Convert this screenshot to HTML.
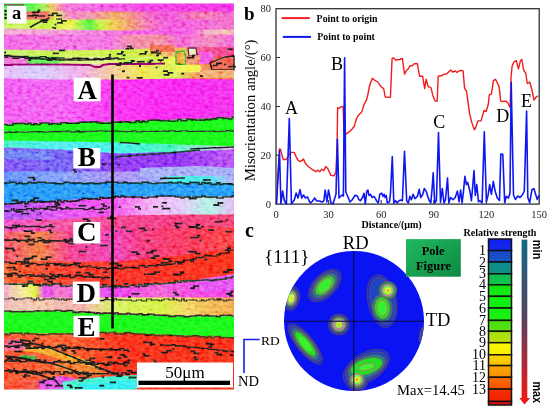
<!DOCTYPE html>
<html><head><meta charset="utf-8"><style>
html,body{margin:0;padding:0;background:#fff;width:550px;height:409px;overflow:hidden}
svg{position:absolute;left:0;top:0;display:block}
.tn{font-family:"Liberation Serif","Times New Roman",serif}
.tb{font-family:"Liberation Serif","Times New Roman",serif;font-weight:bold}
.sb{font-family:"Liberation Sans",Arial,sans-serif;font-weight:bold}
</style></head><body>
<svg width="550" height="409" viewBox="0 0 550 409">
<defs>
<linearGradient id="g0" x1="0" y1="0" x2="1" y2="0"><stop offset="0.0000" stop-color="#40f040"/><stop offset="0.1000" stop-color="#30f030"/><stop offset="0.1652" stop-color="#80f040"/><stop offset="0.2087" stop-color="#f0c050"/><stop offset="0.2652" stop-color="#f060d0"/><stop offset="0.4174" stop-color="#f050e0"/><stop offset="0.5913" stop-color="#f030e0"/><stop offset="1.0000" stop-color="#f020e0"/></linearGradient>
<linearGradient id="g1" x1="0" y1="0" x2="1" y2="0"><stop offset="0.0000" stop-color="#60f040"/><stop offset="0.1000" stop-color="#f05050"/><stop offset="0.1826" stop-color="#f06050"/><stop offset="0.2217" stop-color="#e0f040"/><stop offset="0.2870" stop-color="#f070c0"/><stop offset="0.3739" stop-color="#f080a0"/><stop offset="0.4826" stop-color="#f0a050"/><stop offset="0.5478" stop-color="#f08070"/><stop offset="0.6348" stop-color="#f050c0"/><stop offset="0.7217" stop-color="#f040d8"/><stop offset="0.8522" stop-color="#f06ca0"/><stop offset="1.0000" stop-color="#f050c8"/></linearGradient>
<linearGradient id="g2" x1="0" y1="0" x2="1" y2="0"><stop offset="0.0000" stop-color="#c0f050"/><stop offset="0.2000" stop-color="#c0f030"/><stop offset="0.2870" stop-color="#f0f040"/><stop offset="0.3739" stop-color="#40f030"/><stop offset="0.4174" stop-color="#c0f030"/><stop offset="0.4826" stop-color="#f0c040"/><stop offset="0.5478" stop-color="#f09060"/><stop offset="0.6348" stop-color="#f060b0"/><stop offset="0.7217" stop-color="#f040d8"/><stop offset="0.8522" stop-color="#f050d0"/><stop offset="1.0000" stop-color="#f060c0"/></linearGradient>
<linearGradient id="g3" x1="0" y1="0" x2="1" y2="0"><stop offset="0.0000" stop-color="#f0a0c8"/><stop offset="0.2435" stop-color="#f090d0"/><stop offset="0.4174" stop-color="#f070d8"/><stop offset="0.5478" stop-color="#f050e0"/><stop offset="0.8087" stop-color="#f040e0"/><stop offset="0.8739" stop-color="#f0a0c0"/><stop offset="0.9826" stop-color="#f0c0a0"/><stop offset="1.0000" stop-color="#f090c0"/></linearGradient>
<linearGradient id="g4" x1="0" y1="0" x2="1" y2="0"><stop offset="0.0000" stop-color="#f050e0"/><stop offset="0.2435" stop-color="#f060e0"/><stop offset="0.4609" stop-color="#f060e0"/><stop offset="0.5478" stop-color="#f07aa0"/><stop offset="0.6783" stop-color="#f08090"/><stop offset="0.7652" stop-color="#f050d0"/><stop offset="0.8957" stop-color="#f07ab0"/><stop offset="1.0000" stop-color="#f050d8"/></linearGradient>
<linearGradient id="g5" x1="0" y1="0" x2="1" y2="0"><stop offset="0.0000" stop-color="#c0f060"/><stop offset="0.2000" stop-color="#c0f040"/><stop offset="0.4174" stop-color="#c8f040"/><stop offset="0.5043" stop-color="#c0f030"/><stop offset="0.6348" stop-color="#d0e030"/><stop offset="0.7217" stop-color="#f0a050"/><stop offset="0.7870" stop-color="#f0b040"/><stop offset="0.8522" stop-color="#f04080"/><stop offset="1.0000" stop-color="#f03080"/></linearGradient>
<linearGradient id="g6" x1="0" y1="0" x2="1" y2="0"><stop offset="0.0000" stop-color="#f060d8"/><stop offset="0.0957" stop-color="#f070d0"/><stop offset="0.1130" stop-color="#40f040"/><stop offset="0.2217" stop-color="#50f040"/><stop offset="0.2652" stop-color="#d0f070"/><stop offset="0.4174" stop-color="#e0f080"/><stop offset="0.5043" stop-color="#c0f040"/><stop offset="0.6348" stop-color="#c8f040"/><stop offset="0.7435" stop-color="#f0f040"/><stop offset="0.8522" stop-color="#f040e0"/><stop offset="0.9043" stop-color="#f05040"/><stop offset="1.0000" stop-color="#f05040"/></linearGradient>
<linearGradient id="g7" x1="0" y1="0" x2="1" y2="0"><stop offset="0.0000" stop-color="#e0b0f8"/><stop offset="0.1565" stop-color="#d0c8f8"/><stop offset="0.3304" stop-color="#f0a0e8"/><stop offset="0.4609" stop-color="#f0c090"/><stop offset="0.5913" stop-color="#f0e040"/><stop offset="0.7435" stop-color="#d0f040"/><stop offset="0.8522" stop-color="#f08040"/><stop offset="1.0000" stop-color="#f06030"/></linearGradient>
<linearGradient id="g8" x1="0" y1="0" x2="1" y2="0"><stop offset="0.0000" stop-color="#f048f0"/><stop offset="0.2435" stop-color="#f050f0"/><stop offset="0.5043" stop-color="#f820f0"/><stop offset="0.7652" stop-color="#f818f0"/><stop offset="1.0000" stop-color="#f020e8"/></linearGradient>
<linearGradient id="g9" x1="0" y1="0" x2="1" y2="0"><stop offset="0.0000" stop-color="#10f810"/><stop offset="1.0000" stop-color="#10f810"/></linearGradient>
<linearGradient id="g10" x1="0" y1="0" x2="1" y2="0"><stop offset="0.0000" stop-color="#30f0c0"/><stop offset="0.2435" stop-color="#40e8f0"/><stop offset="0.5043" stop-color="#30f0e0"/><stop offset="0.7217" stop-color="#30f0b0"/><stop offset="0.8522" stop-color="#80e0d0"/><stop offset="1.0000" stop-color="#e0b0f0"/></linearGradient>
<linearGradient id="g11" x1="0" y1="0" x2="1" y2="0"><stop offset="0.0000" stop-color="#7040f0"/><stop offset="0.2435" stop-color="#6050f0"/><stop offset="0.5043" stop-color="#8028f0"/><stop offset="0.7652" stop-color="#8020f0"/><stop offset="1.0000" stop-color="#b040f0"/></linearGradient>
<linearGradient id="g12" x1="0" y1="0" x2="1" y2="0"><stop offset="0.0000" stop-color="#5080f8"/><stop offset="0.2435" stop-color="#7090f8"/><stop offset="0.5043" stop-color="#a080f0"/><stop offset="0.6783" stop-color="#90a0f8"/><stop offset="0.7435" stop-color="#30f0e0"/><stop offset="0.8957" stop-color="#40e0e8"/><stop offset="1.0000" stop-color="#b0a0f8"/></linearGradient>
<linearGradient id="g13" x1="0" y1="0" x2="1" y2="0"><stop offset="0.0000" stop-color="#1888f4"/><stop offset="1.0000" stop-color="#1890f4"/></linearGradient>
<linearGradient id="g14" x1="0" y1="0" x2="1" y2="0"><stop offset="0.0000" stop-color="#a040f0"/><stop offset="0.2435" stop-color="#e040f0"/><stop offset="0.4826" stop-color="#f040e8"/><stop offset="0.6348" stop-color="#f0a0f0"/><stop offset="0.7652" stop-color="#e0c0f8"/><stop offset="0.8957" stop-color="#a0f0e0"/><stop offset="1.0000" stop-color="#e0b0f0"/></linearGradient>
<linearGradient id="g15" x1="0" y1="0" x2="1" y2="0"><stop offset="0.0000" stop-color="#f040c0"/><stop offset="0.2435" stop-color="#f04090"/><stop offset="0.4826" stop-color="#f03080"/><stop offset="0.6783" stop-color="#f02870"/><stop offset="1.0000" stop-color="#f03060"/></linearGradient>
<linearGradient id="g16" x1="0" y1="0" x2="1" y2="0"><stop offset="0.0000" stop-color="#f04060"/><stop offset="0.1565" stop-color="#f07030"/><stop offset="0.2870" stop-color="#f03080"/><stop offset="0.4826" stop-color="#f030b0"/><stop offset="0.5913" stop-color="#f02870"/><stop offset="0.8522" stop-color="#f82840"/><stop offset="1.0000" stop-color="#f83030"/></linearGradient>
<linearGradient id="g17" x1="0" y1="0" x2="1" y2="0"><stop offset="0.0000" stop-color="#f85020"/><stop offset="0.2435" stop-color="#f83020"/><stop offset="0.5043" stop-color="#f82018"/><stop offset="1.0000" stop-color="#f82010"/></linearGradient>
<linearGradient id="g18" x1="0" y1="0" x2="1" y2="0"><stop offset="0.0000" stop-color="#f0a0c0"/><stop offset="0.0913" stop-color="#f0f080"/><stop offset="0.1348" stop-color="#e0f030"/><stop offset="0.1783" stop-color="#e030f0"/><stop offset="0.2435" stop-color="#f060c0"/><stop offset="0.4609" stop-color="#e030f0"/><stop offset="0.5478" stop-color="#f030e0"/><stop offset="0.6783" stop-color="#f050d0"/><stop offset="0.8522" stop-color="#f030e0"/><stop offset="1.0000" stop-color="#f030e0"/></linearGradient>
<linearGradient id="g19" x1="0" y1="0" x2="1" y2="0"><stop offset="0.0000" stop-color="#f0b0b0"/><stop offset="0.1565" stop-color="#f0c0a0"/><stop offset="0.3304" stop-color="#f0a0a0"/><stop offset="0.4826" stop-color="#d0f050"/><stop offset="0.6783" stop-color="#d0f030"/><stop offset="0.7870" stop-color="#f0d050"/><stop offset="0.8957" stop-color="#f0b040"/><stop offset="1.0000" stop-color="#f0a040"/></linearGradient>
<linearGradient id="g20" x1="0" y1="0" x2="1" y2="0"><stop offset="0.0000" stop-color="#10f810"/><stop offset="1.0000" stop-color="#10f810"/></linearGradient>
<linearGradient id="g21" x1="0" y1="0" x2="1" y2="0"><stop offset="0.0000" stop-color="#f84020"/><stop offset="0.2435" stop-color="#f85020"/><stop offset="0.5043" stop-color="#f82010"/><stop offset="1.0000" stop-color="#f82010"/></linearGradient>
<linearGradient id="g22" x1="0" y1="0" x2="1" y2="0"><stop offset="0.0000" stop-color="#f84020"/><stop offset="0.1348" stop-color="#f04030"/><stop offset="0.1783" stop-color="#e030e0"/><stop offset="0.2435" stop-color="#20f0c0"/><stop offset="0.4174" stop-color="#20f0f0"/><stop offset="0.5478" stop-color="#40f0a0"/><stop offset="0.5913" stop-color="#f82010"/><stop offset="1.0000" stop-color="#f82010"/></linearGradient>
<linearGradient id="s0" x1="0" y1="0" x2="0" y2="1"><stop offset="0" stop-color="#1020f0"/><stop offset="1" stop-color="#1428e8"/></linearGradient>
<linearGradient id="s1" x1="0" y1="0" x2="0" y2="1"><stop offset="0" stop-color="#1848d0"/><stop offset="1" stop-color="#1a58c0"/></linearGradient>
<linearGradient id="s2" x1="0" y1="0" x2="0" y2="1"><stop offset="0" stop-color="#108a90"/><stop offset="1" stop-color="#109080"/></linearGradient>
<linearGradient id="s3" x1="0" y1="0" x2="0" y2="1"><stop offset="0" stop-color="#10b858"/><stop offset="1" stop-color="#10c848"/></linearGradient>
<linearGradient id="s4" x1="0" y1="0" x2="0" y2="1"><stop offset="0" stop-color="#10e010"/><stop offset="1" stop-color="#10f010"/></linearGradient>
<linearGradient id="s5" x1="0" y1="0" x2="0" y2="1"><stop offset="0" stop-color="#10f010"/><stop offset="1" stop-color="#10f010"/></linearGradient>
<linearGradient id="s6" x1="0" y1="0" x2="0" y2="1"><stop offset="0" stop-color="#10f010"/><stop offset="1" stop-color="#20f010"/></linearGradient>
<linearGradient id="s7" x1="0" y1="0" x2="0" y2="1"><stop offset="0" stop-color="#40e010"/><stop offset="1" stop-color="#60e010"/></linearGradient>
<linearGradient id="s8" x1="0" y1="0" x2="0" y2="1"><stop offset="0" stop-color="#a0e010"/><stop offset="1" stop-color="#c0e010"/></linearGradient>
<linearGradient id="s9" x1="0" y1="0" x2="0" y2="1"><stop offset="0" stop-color="#f8f800"/><stop offset="1" stop-color="#f8f000"/></linearGradient>
<linearGradient id="s10" x1="0" y1="0" x2="0" y2="1"><stop offset="0" stop-color="#f8d800"/><stop offset="1" stop-color="#f8c000"/></linearGradient>
<linearGradient id="s11" x1="0" y1="0" x2="0" y2="1"><stop offset="0" stop-color="#f8a800"/><stop offset="1" stop-color="#f89000"/></linearGradient>
<linearGradient id="s12" x1="0" y1="0" x2="0" y2="1"><stop offset="0" stop-color="#f87000"/><stop offset="1" stop-color="#f85000"/></linearGradient>
<linearGradient id="s13" x1="0" y1="0" x2="0" y2="1"><stop offset="0" stop-color="#f83000"/><stop offset="1" stop-color="#f02000"/></linearGradient>
<linearGradient id="s14" x1="0" y1="0" x2="0" y2="1"><stop offset="0" stop-color="#e01010"/><stop offset="1" stop-color="#e01010"/></linearGradient>
<linearGradient id="pole" x1="0" y1="0" x2="1" y2="1"><stop offset="0" stop-color="#22b860"/><stop offset="1" stop-color="#0c8a42"/></linearGradient>
<linearGradient id="arr" x1="0" y1="0" x2="0" y2="1"><stop offset="0" stop-color="#0f6a85"/><stop offset="0.5" stop-color="#5a4060"/><stop offset="1" stop-color="#f01818"/></linearGradient>
<filter id="noise" x="0" y="0" width="100%" height="100%"><feTurbulence type="fractalNoise" baseFrequency="0.22 0.35" numOctaves="2" seed="3"/><feColorMatrix type="matrix" values="1.6 0 0 0 -0.3  1.6 0 0 0 -0.3  1.6 0 0 0 -0.3  0 0 0 0 1"/></filter>
<clipPath id="circ"><circle cx="354" cy="321" r="70"/></clipPath>
<filter id="bl" x="-20%" y="-20%" width="140%" height="140%"><feGaussianBlur stdDeviation="0.45"/></filter>
</defs>
<!-- EBSD map -->
<g>
<polygon points="4.0,3.5 13.6,3.5 23.2,3.5 32.8,3.5 42.3,3.5 51.9,3.5 61.5,3.5 71.1,3.5 80.7,3.5 90.2,3.5 99.8,3.5 109.4,3.5 119.0,3.5 128.6,3.5 138.2,3.5 147.8,3.5 157.3,3.5 166.9,3.5 176.5,3.5 186.1,3.5 195.7,3.5 205.2,3.5 214.8,3.5 224.4,3.5 234.0,3.5 234.0,12.5 224.4,12.5 214.8,12.5 205.2,12.5 195.7,12.5 186.1,12.5 176.5,12.5 166.9,12.5 157.3,12.5 147.8,12.5 138.2,12.5 128.6,12.5 119.0,12.5 109.4,12.5 99.8,12.5 90.2,12.5 80.7,12.5 71.1,12.5 61.5,12.5 51.9,12.5 42.3,12.5 32.8,12.5 23.2,12.5 13.6,12.5 4.0,12.5" fill="url(#g0)"/>
<polygon points="4.0,11.5 13.6,11.5 23.2,11.5 32.8,11.5 42.3,11.5 51.9,11.5 61.5,11.5 71.1,11.5 80.7,11.5 90.2,11.5 99.8,11.5 109.4,11.5 119.0,11.5 128.6,11.5 138.2,11.5 147.8,11.5 157.3,11.5 166.9,11.5 176.5,11.5 186.1,11.5 195.7,11.5 205.2,11.5 214.8,11.5 224.4,11.5 234.0,11.5 234.0,20.5 224.4,20.5 214.8,20.5 205.2,20.5 195.7,20.5 186.1,20.5 176.5,20.5 166.9,20.5 157.3,20.5 147.8,20.5 138.2,20.5 128.6,20.5 119.0,20.5 109.4,20.5 99.8,20.5 90.2,20.5 80.7,20.5 71.1,20.5 61.5,20.5 51.9,20.5 42.3,20.5 32.8,20.5 23.2,20.5 13.6,20.5 4.0,20.5" fill="url(#g1)"/>
<polygon points="4.0,19.5 13.6,19.5 23.2,19.5 32.8,19.5 42.3,19.5 51.9,19.5 61.5,19.5 71.1,19.5 80.7,19.5 90.2,19.5 99.8,19.5 109.4,19.5 119.0,19.5 128.6,19.5 138.2,19.5 147.8,19.5 157.3,19.5 166.9,19.5 176.5,19.5 186.1,19.5 195.7,19.5 205.2,19.5 214.8,19.5 224.4,19.5 234.0,19.5 234.0,30.5 224.4,30.5 214.8,30.5 205.2,30.5 195.7,30.5 186.1,30.5 176.5,30.6 166.9,30.7 157.3,30.9 147.8,31.0 138.2,31.2 128.6,31.4 119.0,31.5 109.4,31.3 99.8,31.2 90.2,31.0 80.7,30.8 71.1,30.7 61.5,30.5 51.9,30.4 42.3,30.2 32.8,30.0 23.2,29.8 13.6,29.7 4.0,29.5" fill="url(#g2)"/>
<polygon points="4.0,28.5 13.6,28.7 23.2,28.8 32.8,29.0 42.3,29.2 51.9,29.4 61.5,29.5 71.1,29.7 80.7,29.8 90.2,30.0 99.8,30.2 109.4,30.3 119.0,30.5 128.6,30.4 138.2,30.2 147.8,30.0 157.3,29.9 166.9,29.7 176.5,29.6 186.1,29.5 195.7,29.5 205.2,29.5 214.8,29.5 224.4,29.5 234.0,29.5 234.0,35.5 224.4,35.5 214.8,35.5 205.2,35.5 195.7,35.5 186.1,35.5 176.5,35.5 166.9,35.5 157.3,35.5 147.8,35.5 138.2,35.5 128.6,35.5 119.0,35.5 109.4,35.5 99.8,35.5 90.2,35.5 80.7,35.5 71.1,35.5 61.5,35.5 51.9,35.5 42.3,35.5 32.8,35.5 23.2,35.5 13.6,35.5 4.0,35.5" fill="url(#g3)"/>
<polygon points="4.0,34.5 13.6,34.5 23.2,34.5 32.8,34.5 42.3,34.5 51.9,34.5 61.5,34.5 71.1,34.5 80.7,34.5 90.2,34.5 99.8,34.5 109.4,34.5 119.0,34.5 128.6,34.5 138.2,34.5 147.8,34.5 157.3,34.5 166.9,34.5 176.5,34.5 186.1,34.5 195.7,34.5 205.2,34.5 214.8,34.5 224.4,34.5 234.0,34.5 234.0,47.5 224.4,47.7 214.8,47.9 205.2,48.0 195.7,48.2 186.1,48.4 176.5,48.6 166.9,48.9 157.3,49.3 147.8,49.6 138.2,49.9 128.6,50.2 119.0,50.5 109.4,50.7 99.8,50.8 90.2,51.0 80.7,51.2 71.1,51.3 61.5,51.5 51.9,51.4 42.3,51.2 32.8,51.0 23.2,50.8 13.6,50.7 4.0,50.5" fill="url(#g4)"/>
<polygon points="4.0,49.5 13.6,49.7 23.2,49.8 32.8,50.0 42.3,50.2 51.9,50.4 61.5,50.5 71.1,50.3 80.7,50.2 90.2,50.0 99.8,49.8 109.4,49.7 119.0,49.5 128.6,49.2 138.2,48.9 147.8,48.6 157.3,48.3 166.9,47.9 176.5,47.6 186.1,47.4 195.7,47.2 205.2,47.0 214.8,46.9 224.4,46.7 234.0,46.5 234.0,57.5 224.4,57.5 214.8,57.5 205.2,57.5 195.7,57.5 186.1,57.5 176.5,57.5 166.9,57.5 157.3,57.5 147.8,57.5 138.2,57.5 128.6,57.5 119.0,57.5 109.4,57.5 99.8,57.5 90.2,57.5 80.7,57.5 71.1,57.5 61.5,57.5 51.9,57.5 42.3,57.5 32.8,57.5 23.2,57.5 13.6,57.5 4.0,57.5" fill="url(#g5)"/>
<polygon points="4.0,56.5 13.6,56.5 23.2,56.5 32.8,56.5 42.3,56.5 51.9,56.5 61.5,56.5 71.1,56.5 80.7,56.5 90.2,56.5 99.8,56.5 109.4,56.5 119.0,56.5 128.6,56.5 138.2,56.5 147.8,56.5 157.3,56.5 166.9,56.5 176.5,56.5 186.1,56.5 195.7,56.5 205.2,56.5 214.8,56.5 224.4,56.5 234.0,56.5 234.0,64.5 224.4,64.5 214.8,64.5 205.2,64.5 195.7,64.5 186.1,64.5 176.5,64.6 166.9,64.7 157.3,64.9 147.8,65.0 138.2,65.2 128.6,65.4 119.0,65.5 109.4,65.4 99.8,65.3 90.2,65.3 80.7,65.2 71.1,65.1 61.5,65.0 51.9,65.0 42.3,65.0 32.8,65.0 23.2,65.0 13.6,65.0 4.0,65.0" fill="url(#g6)"/>
<polygon points="4.0,64.0 13.6,64.0 23.2,64.0 32.8,64.0 42.3,64.0 51.9,64.0 61.5,64.0 71.1,64.1 80.7,64.2 90.2,64.3 99.8,64.3 109.4,64.4 119.0,64.5 128.6,64.4 138.2,64.2 147.8,64.0 157.3,63.9 166.9,63.7 176.5,63.6 186.1,63.5 195.7,63.5 205.2,63.5 214.8,63.5 224.4,63.5 234.0,63.5 234.0,80.5 224.4,80.3 214.8,80.1 205.2,80.0 195.7,79.8 186.1,79.6 176.5,79.6 166.9,79.7 157.3,79.9 147.8,80.0 138.2,80.2 128.6,80.4 119.0,80.5 109.4,80.5 99.8,80.5 90.2,80.5 80.7,80.5 71.1,80.5 61.5,80.5 51.9,80.4 42.3,80.2 32.8,80.0 23.2,79.8 13.6,79.7 4.0,79.5" fill="url(#g7)"/>
<polygon points="4.0,78.5 13.6,78.7 23.2,78.8 32.8,79.0 42.3,79.2 51.9,79.4 61.5,79.5 71.1,79.5 80.7,79.5 90.2,79.5 99.8,79.5 109.4,79.5 119.0,79.5 128.6,79.4 138.2,79.2 147.8,79.0 157.3,78.9 166.9,78.7 176.5,78.6 186.1,78.6 195.7,78.8 205.2,79.0 214.8,79.1 224.4,79.3 234.0,79.5 234.0,118.5 224.4,118.9 214.8,119.2 205.2,119.6 195.7,119.9 186.1,120.3 176.5,120.6 166.9,120.9 157.3,121.3 147.8,121.6 138.2,121.9 128.6,122.2 119.0,122.5 109.4,122.8 99.8,123.0 90.2,123.2 80.7,123.5 71.1,123.7 61.5,124.0 51.9,124.1 42.3,124.3 32.8,124.5 23.2,124.7 13.6,124.8 4.0,125.0" fill="url(#g8)"/>
<polygon points="4.0,124.0 13.6,123.8 23.2,123.7 32.8,123.5 42.3,123.3 51.9,123.1 61.5,123.0 71.1,122.7 80.7,122.5 90.2,122.2 99.8,122.0 109.4,121.8 119.0,121.5 128.6,121.2 138.2,120.9 147.8,120.6 157.3,120.3 166.9,119.9 176.5,119.6 186.1,119.3 195.7,118.9 205.2,118.6 214.8,118.2 224.4,117.9 234.0,117.5 234.0,147.5 224.4,147.1 214.8,146.8 205.2,146.4 195.7,146.1 186.1,145.7 176.5,145.4 166.9,145.1 157.3,144.7 147.8,144.4 138.2,144.1 128.6,143.8 119.0,143.5 109.4,143.3 99.8,143.2 90.2,143.0 80.7,142.8 71.1,142.7 61.5,142.5 51.9,142.4 42.3,142.2 32.8,142.0 23.2,141.8 13.6,141.7 4.0,141.5" fill="url(#g9)"/>
<polygon points="4.0,140.5 13.6,140.7 23.2,140.8 32.8,141.0 42.3,141.2 51.9,141.4 61.5,141.5 71.1,141.7 80.7,141.8 90.2,142.0 99.8,142.2 109.4,142.3 119.0,142.5 128.6,142.8 138.2,143.1 147.8,143.4 157.3,143.7 166.9,144.1 176.5,144.4 186.1,144.7 195.7,145.1 205.2,145.4 214.8,145.8 224.4,146.1 234.0,146.5 234.0,150.5 224.4,150.9 214.8,151.2 205.2,151.6 195.7,151.9 186.1,152.3 176.5,152.6 166.9,152.9 157.3,153.3 147.8,153.6 138.2,153.9 128.6,154.2 119.0,154.4 109.4,153.8 99.8,153.2 90.2,152.5 80.7,151.9 71.1,151.2 61.5,150.6 51.9,150.2 42.3,149.9 32.8,149.5 23.2,149.2 13.6,148.8 4.0,148.5" fill="url(#g10)"/>
<polygon points="4.0,147.5 13.6,147.8 23.2,148.2 32.8,148.5 42.3,148.9 51.9,149.2 61.5,149.6 71.1,150.2 80.7,150.9 90.2,151.5 99.8,152.2 109.4,152.8 119.0,153.4 128.6,153.2 138.2,152.9 147.8,152.6 157.3,152.3 166.9,151.9 176.5,151.6 186.1,151.3 195.7,150.9 205.2,150.6 214.8,150.2 224.4,149.9 234.0,149.5 234.0,172.5 224.4,172.5 214.8,172.5 205.2,172.5 195.7,172.5 186.1,172.5 176.5,172.5 166.9,172.5 157.3,172.5 147.8,172.5 138.2,172.5 128.6,172.5 119.0,172.5 109.4,172.5 99.8,172.5 90.2,172.5 80.7,172.5 71.1,172.5 61.5,172.5 51.9,172.5 42.3,172.5 32.8,172.5 23.2,172.5 13.6,172.5 4.0,172.5" fill="url(#g11)"/>
<polygon points="4.0,171.5 13.6,171.5 23.2,171.5 32.8,171.5 42.3,171.5 51.9,171.5 61.5,171.5 71.1,171.5 80.7,171.5 90.2,171.5 99.8,171.5 109.4,171.5 119.0,171.5 128.6,171.5 138.2,171.5 147.8,171.5 157.3,171.5 166.9,171.5 176.5,171.5 186.1,171.5 195.7,171.5 205.2,171.5 214.8,171.5 224.4,171.5 234.0,171.5 234.0,184.5 224.4,184.3 214.8,184.1 205.2,184.0 195.7,183.8 186.1,183.6 176.5,183.5 166.9,183.5 157.3,183.5 147.8,183.5 138.2,183.5 128.6,183.5 119.0,183.5 109.4,183.5 99.8,183.5 90.2,183.5 80.7,183.5 71.1,183.5 61.5,183.5 51.9,183.5 42.3,183.5 32.8,183.5 23.2,183.5 13.6,183.5 4.0,183.5" fill="url(#g12)"/>
<polygon points="4.0,182.5 13.6,182.5 23.2,182.5 32.8,182.5 42.3,182.5 51.9,182.5 61.5,182.5 71.1,182.5 80.7,182.5 90.2,182.5 99.8,182.5 109.4,182.5 119.0,182.5 128.6,182.5 138.2,182.5 147.8,182.5 157.3,182.5 166.9,182.5 176.5,182.5 186.1,182.6 195.7,182.8 205.2,183.0 214.8,183.1 224.4,183.3 234.0,183.5 234.0,197.5 224.4,197.5 214.8,197.5 205.2,197.5 195.7,197.5 186.1,197.5 176.5,197.5 166.9,197.5 157.3,197.5 147.8,197.5 138.2,197.5 128.6,197.5 119.0,197.6 109.4,198.2 99.8,198.8 90.2,199.5 80.7,200.1 71.1,200.8 61.5,201.4 51.9,201.9 42.3,202.4 32.8,203.0 23.2,203.5 13.6,204.0 4.0,204.5" fill="url(#g13)"/>
<polygon points="4.0,203.5 13.6,203.0 23.2,202.5 32.8,202.0 42.3,201.4 51.9,200.9 61.5,200.4 71.1,199.8 80.7,199.1 90.2,198.5 99.8,197.8 109.4,197.2 119.0,196.6 128.6,196.5 138.2,196.5 147.8,196.5 157.3,196.5 166.9,196.5 176.5,196.5 186.1,196.5 195.7,196.5 205.2,196.5 214.8,196.5 224.4,196.5 234.0,196.5 234.0,215.5 224.4,215.5 214.8,215.5 205.2,215.5 195.7,215.5 186.1,215.5 176.5,215.6 166.9,215.7 157.3,215.9 147.8,216.0 138.2,216.2 128.6,216.4 119.0,216.6 109.4,217.2 99.8,217.8 90.2,218.5 80.7,219.1 71.1,219.8 61.5,220.4 51.9,220.5 42.3,220.5 32.8,220.5 23.2,220.5 13.6,220.5 4.0,220.5" fill="url(#g14)"/>
<polygon points="4.0,219.5 13.6,219.5 23.2,219.5 32.8,219.5 42.3,219.5 51.9,219.5 61.5,219.4 71.1,218.8 80.7,218.1 90.2,217.5 99.8,216.8 109.4,216.2 119.0,215.6 128.6,215.4 138.2,215.2 147.8,215.0 157.3,214.9 166.9,214.7 176.5,214.6 186.1,214.5 195.7,214.5 205.2,214.5 214.8,214.5 224.4,214.5 234.0,214.5 234.0,228.5 224.4,228.5 214.8,228.5 205.2,228.5 195.7,228.5 186.1,228.5 176.5,228.6 166.9,228.9 157.3,229.3 147.8,229.6 138.2,229.9 128.6,230.2 119.0,230.5 109.4,230.9 99.8,231.2 90.2,231.5 80.7,231.8 71.1,232.1 61.5,232.4 51.9,232.5 42.3,232.5 32.8,232.5 23.2,232.5 13.6,232.5 4.0,232.5" fill="url(#g15)"/>
<polygon points="4.0,231.5 13.6,231.5 23.2,231.5 32.8,231.5 42.3,231.5 51.9,231.5 61.5,231.4 71.1,231.1 80.7,230.8 90.2,230.5 99.8,230.2 109.4,229.9 119.0,229.5 128.6,229.2 138.2,228.9 147.8,228.6 157.3,228.3 166.9,227.9 176.5,227.6 186.1,227.5 195.7,227.5 205.2,227.5 214.8,227.5 224.4,227.5 234.0,227.5 234.0,250.5 224.4,251.6 214.8,252.6 205.2,253.7 195.7,254.8 186.1,255.8 176.5,256.9 166.9,257.8 157.3,258.8 147.8,259.7 138.2,260.7 128.6,261.6 119.0,262.5 109.4,262.5 99.8,262.5 90.2,262.5 80.7,262.5 71.1,262.5 61.5,262.5 51.9,262.5 42.3,262.5 32.8,262.5 23.2,262.5 13.6,262.5 4.0,262.5" fill="url(#g16)"/>
<polygon points="4.0,261.5 13.6,261.5 23.2,261.5 32.8,261.5 42.3,261.5 51.9,261.5 61.5,261.5 71.1,261.5 80.7,261.5 90.2,261.5 99.8,261.5 109.4,261.5 119.0,261.5 128.6,260.6 138.2,259.7 147.8,258.7 157.3,257.8 166.9,256.8 176.5,255.9 186.1,254.8 195.7,253.8 205.2,252.7 214.8,251.6 224.4,250.6 234.0,249.5 234.0,277.5 224.4,278.4 214.8,279.3 205.2,280.2 195.7,281.0 186.1,281.9 176.5,282.8 166.9,283.6 157.3,284.4 147.8,285.2 138.2,286.0 128.6,286.8 119.0,287.5 109.4,287.1 99.8,286.8 90.2,286.5 80.7,286.2 71.1,285.9 61.5,285.6 51.9,285.4 42.3,285.2 32.8,285.0 23.2,284.8 13.6,284.7 4.0,284.5" fill="url(#g17)"/>
<polygon points="4.0,283.5 13.6,283.7 23.2,283.8 32.8,284.0 42.3,284.2 51.9,284.4 61.5,284.6 71.1,284.9 80.7,285.2 90.2,285.5 99.8,285.8 109.4,286.1 119.0,286.5 128.6,285.8 138.2,285.0 147.8,284.2 157.3,283.4 166.9,282.6 176.5,281.8 186.1,280.9 195.7,280.0 205.2,279.2 214.8,278.3 224.4,277.4 234.0,276.5 234.0,298.5 224.4,298.5 214.8,298.5 205.2,298.5 195.7,298.5 186.1,298.5 176.5,298.5 166.9,298.5 157.3,298.5 147.8,298.5 138.2,298.5 128.6,298.5 119.0,298.5 109.4,298.5 99.8,298.5 90.2,298.5 80.7,298.5 71.1,298.5 61.5,298.5 51.9,298.5 42.3,298.5 32.8,298.5 23.2,298.5 13.6,298.5 4.0,298.5" fill="url(#g18)"/>
<polygon points="4.0,297.5 13.6,297.5 23.2,297.5 32.8,297.5 42.3,297.5 51.9,297.5 61.5,297.5 71.1,297.5 80.7,297.5 90.2,297.5 99.8,297.5 109.4,297.5 119.0,297.5 128.6,297.5 138.2,297.5 147.8,297.5 157.3,297.5 166.9,297.5 176.5,297.5 186.1,297.5 195.7,297.5 205.2,297.5 214.8,297.5 224.4,297.5 234.0,297.5 234.0,316.5 224.4,316.5 214.8,316.5 205.2,316.5 195.7,316.5 186.1,316.5 176.5,316.4 166.9,316.1 157.3,315.7 147.8,315.4 138.2,315.1 128.6,314.8 119.0,314.4 109.4,314.0 99.8,313.5 90.2,313.0 80.7,312.5 71.1,312.1 61.5,311.6 51.9,311.5 42.3,311.5 32.8,311.5 23.2,311.5 13.6,311.5 4.0,311.5" fill="url(#g19)"/>
<polygon points="4.0,310.5 13.6,310.5 23.2,310.5 32.8,310.5 42.3,310.5 51.9,310.5 61.5,310.6 71.1,311.1 80.7,311.5 90.2,312.0 99.8,312.5 109.4,313.0 119.0,313.4 128.6,313.8 138.2,314.1 147.8,314.4 157.3,314.7 166.9,315.1 176.5,315.4 186.1,315.5 195.7,315.5 205.2,315.5 214.8,315.5 224.4,315.5 234.0,315.5 234.0,338.5 224.4,338.1 214.8,337.8 205.2,337.4 195.7,337.1 186.1,336.7 176.5,336.3 166.9,335.8 157.3,335.4 147.8,334.9 138.2,334.4 128.6,333.9 119.0,333.5 109.4,333.7 99.8,333.8 90.2,334.0 80.7,334.2 71.1,334.3 61.5,334.5 51.9,334.5 42.3,334.5 32.8,334.5 23.2,334.5 13.6,334.5 4.0,334.5" fill="url(#g20)"/>
<polygon points="4.0,333.5 13.6,333.5 23.2,333.5 32.8,333.5 42.3,333.5 51.9,333.5 61.5,333.5 71.1,333.3 80.7,333.2 90.2,333.0 99.8,332.8 109.4,332.7 119.0,332.5 128.6,332.9 138.2,333.4 147.8,333.9 157.3,334.4 166.9,334.8 176.5,335.3 186.1,335.7 195.7,336.1 205.2,336.4 214.8,336.8 224.4,337.1 234.0,337.5 234.0,380.5 224.4,380.5 214.8,380.5 205.2,380.5 195.7,380.5 186.1,380.5 176.5,380.5 166.9,380.5 157.3,380.5 147.8,380.5 138.2,380.5 128.6,380.5 119.0,380.5 109.4,380.5 99.8,380.5 90.2,380.5 80.7,380.5 71.1,380.5 61.5,380.5 51.9,380.5 42.3,380.5 32.8,380.5 23.2,380.5 13.6,380.5 4.0,380.5" fill="url(#g21)"/>
<polygon points="4.0,379.5 13.6,379.5 23.2,379.5 32.8,379.5 42.3,379.5 51.9,379.5 61.5,379.5 71.1,379.5 80.7,379.5 90.2,379.5 99.8,379.5 109.4,379.5 119.0,379.5 128.6,379.5 138.2,379.5 147.8,379.5 157.3,379.5 166.9,379.5 176.5,379.5 186.1,379.5 195.7,379.5 205.2,379.5 214.8,379.5 224.4,379.5 234.0,379.5 234.0,389.5 224.4,389.5 214.8,389.5 205.2,389.5 195.7,389.5 186.1,389.5 176.5,389.5 166.9,389.5 157.3,389.5 147.8,389.5 138.2,389.5 128.6,389.5 119.0,389.5 109.4,389.5 99.8,389.5 90.2,389.5 80.7,389.5 71.1,389.5 61.5,389.5 51.9,389.5 42.3,389.5 32.8,389.5 23.2,389.5 13.6,389.5 4.0,389.5" fill="url(#g22)"/>
<polygon points="176.0,52.0 184.0,51.0 186.0,58.0 185.0,65.0 176.0,64.0" fill="#f0a030" stroke="#20a020" stroke-width="1.3"/>
<polygon points="188.0,48.0 196.0,48.0 197.0,55.0 189.0,56.0" fill="#f0f0c0" stroke="#501040" stroke-width="1.3"/>
<polygon points="186.0,56.0 200.0,55.0 201.0,63.0 186.0,63.0" fill="#f08060"/>
<polygon points="200.0,52.0 212.0,52.0 214.0,58.0 208.0,64.0 200.0,64.0" fill="#f040e0"/>
<polygon points="210.0,63.0 225.0,57.0 234.0,56.0 234.0,70.0 212.0,70.0" fill="#f05040" stroke="#101010" stroke-width="1.3"/>
<polygon points="176.0,65.0 200.0,65.0 202.0,72.0 176.0,72.0" fill="#f0f040"/>
<polygon points="200.0,70.0 234.0,70.0 234.0,78.0 200.0,78.0" fill="#f0a060"/>
<polygon points="150.0,45.0 175.0,45.0 175.0,52.0 150.0,52.0" fill="#f06040"/>
<polygon points="5.0,339.0 25.0,340.0 26.0,350.0 5.0,351.0" fill="#f05080"/>
<polygon points="25.0,346.0 45.0,347.0 75.0,356.0 100.0,365.0 98.0,370.0 70.0,362.0 40.0,353.0 24.0,351.0" fill="#f0a020"/>
<polygon points="55.0,362.0 90.0,366.0 110.0,374.0 90.0,377.0 55.0,370.0" fill="#f07020"/>
<polygon points="20.0,355.0 36.0,356.0 36.0,360.0 20.0,359.0" fill="#2fa030"/>
<polygon points="40.0,381.0 60.0,376.0 75.0,378.0 70.0,389.0 40.0,389.0" fill="#e040e0"/>
<polygon points="62.0,382.0 100.0,377.0 137.0,375.0 137.0,389.0 64.0,389.0" fill="#30f0c8"/>
<polygon points="80.0,384.0 120.0,381.0 137.0,381.0 137.0,389.0 80.0,389.0" fill="#20e8f0"/>
<polygon points="200.0,279.0 234.0,274.0 234.0,290.0 200.0,292.0" fill="#e040f0"/>
<polygon points="4.0,150.0 50.0,151.0 50.0,160.0 4.0,159.0" fill="#6070f0"/>
<polygon points="140.0,168.0 200.0,166.0 234.0,168.0 234.0,176.0 140.0,176.0" fill="#98a0f4"/>
<polyline points="4.0,124.5 7.0,124.5 7.0,125.2 13.0,125.2 13.0,123.5 16.0,123.5 16.0,123.5 19.0,123.5 19.0,123.4 25.0,123.4 25.0,124.1 28.0,124.1 28.0,123.3 31.0,123.3 31.0,124.8 34.0,124.8 34.0,124.0 37.0,124.0 37.0,124.7 40.0,124.7 40.0,123.1 43.0,123.1 43.0,123.0 49.0,123.0 49.0,124.5 52.0,124.5 52.0,123.6 55.0,123.6 55.0,123.6 58.0,123.6 58.0,124.3 61.0,124.3 61.0,122.7 67.0,122.7 67.0,123.3 73.0,123.3 73.0,123.2 76.0,123.2 76.0,123.1 79.0,123.1 79.0,122.2 85.0,122.2 85.0,122.1 91.0,122.1 91.0,121.9 97.0,121.9 97.0,122.6 100.0,122.6 100.0,123.3 103.0,123.3 103.0,123.2 109.0,123.2 109.0,123.1 112.0,123.1 112.0,122.2 115.0,122.2 115.0,122.1 121.0,122.1 121.0,122.0 124.0,122.0 124.0,121.9 130.0,121.9 130.0,122.5 133.0,122.5 133.0,122.4 136.0,122.4 136.0,120.7 139.0,120.7 139.0,122.2 142.0,122.2 142.0,121.3 145.0,121.3 145.0,122.0 148.0,122.0 148.0,120.3 154.0,120.3 154.0,120.1 160.0,120.1 160.0,120.7 163.0,120.7 163.0,120.6 169.0,120.6 169.0,121.2 175.0,121.2 175.0,121.0 178.0,121.0 178.0,119.3 181.0,119.3 181.0,120.8 187.0,120.8 187.0,118.9 190.0,118.9 190.0,119.6 196.0,119.6 196.0,120.2 199.0,120.2 199.0,120.1 205.0,120.1 205.0,119.1 208.0,119.1 208.0,119.8 211.0,119.8 211.0,118.9 217.0,118.9 217.0,117.8 220.0,117.8 220.0,117.7 223.0,117.7 223.0,118.4 226.0,118.4 226.0,118.3 229.0,118.3 229.0,119.0 232.0,119.0 232.0,117.3 234.0,117.3" fill="none" stroke="#10200f" stroke-width="1.6"/>
<polyline points="4.0,132.5 7.0,132.5 7.0,132.0 10.0,132.0 10.0,132.4 16.0,132.4 16.0,131.9 22.0,131.9 22.0,132.3 25.0,132.3 25.0,132.3 28.0,132.3 28.0,131.8 31.0,131.8 31.0,131.8 34.0,131.8 34.0,131.7 40.0,131.7 40.0,131.7 43.0,131.7 43.0,132.2 49.0,132.2 49.0,131.6 52.0,131.6 52.0,131.6 55.0,131.6 55.0,131.5 58.0,131.5 58.0,131.5 64.0,131.5 64.0,131.5 67.0,131.5 67.0,131.0 70.0,131.0 70.0,132.0 73.0,132.0 73.0,132.0 76.0,132.0 76.0,131.0 79.0,131.0 79.0,132.0 82.0,132.0 82.0,131.5 85.0,131.5 85.0,131.5 88.0,131.5 88.0,131.5 91.0,131.5 91.0,131.4 97.0,131.4 97.0,130.9 100.0,130.9 100.0,130.9 106.0,130.9 106.0,131.4 112.0,131.4 112.0,130.9 115.0,130.9 115.0,130.9 118.0,130.9 118.0,131.4 124.0,131.4 124.0,131.9 127.0,131.9 127.0,131.4 130.0,131.4 130.0,131.4 133.0,131.4 133.0,130.9 136.0,130.9 136.0,131.9 139.0,131.9 139.0,131.9 142.0,131.9 142.0,131.4 145.0,131.4 145.0,131.4 148.0,131.4 148.0,131.4 154.0,131.4 154.0,131.4 157.0,131.4 157.0,131.4 163.0,131.4 163.0,130.9 166.0,130.9 166.0,131.4 169.0,131.4 169.0,130.9 175.0,130.9 175.0,131.4 181.0,131.4 181.0,130.9 187.0,130.9 187.0,131.3 193.0,131.3 193.0,131.3 196.0,131.3 196.0,131.3 199.0,131.3 199.0,131.3 205.0,131.3 205.0,131.2 211.0,131.2 211.0,131.2 214.0,131.2 214.0,131.6 220.0,131.6 220.0,131.1 223.0,131.1 223.0,131.6 226.0,131.6 226.0,130.6 229.0,130.6 229.0,131.0 232.0,131.0 232.0,131.0 234.0,131.0" fill="none" stroke="#1a2a1a" stroke-width="1.3"/>
<polyline points="4.0,183.0 7.0,183.0 7.0,183.0 10.0,183.0 10.0,182.2 13.0,182.2 13.0,182.2 16.0,182.2 16.0,183.8 19.0,183.8 19.0,183.0 22.0,183.0 22.0,183.8 28.0,183.8 28.0,182.2 31.0,182.2 31.0,183.0 37.0,183.0 37.0,182.2 43.0,182.2 43.0,182.2 46.0,182.2 46.0,183.0 49.0,183.0 49.0,183.0 52.0,183.0 52.0,183.0 55.0,183.0 55.0,183.8 58.0,183.8 58.0,183.8 64.0,183.8 64.0,182.2 70.0,182.2 70.0,183.0 73.0,183.0 73.0,183.0 76.0,183.0 76.0,183.0 82.0,183.0 82.0,183.8 88.0,183.8 88.0,183.0 94.0,183.0 94.0,183.8 100.0,183.8 100.0,183.0 103.0,183.0 103.0,183.0 106.0,183.0 106.0,182.2 112.0,182.2 112.0,182.2 118.0,182.2 118.0,183.0 121.0,183.0 121.0,183.0 124.0,183.0 124.0,182.2 127.0,182.2 127.0,183.0 130.0,183.0 130.0,183.0 136.0,183.0 136.0,183.0 139.0,183.0 139.0,183.8 142.0,183.8 142.0,182.2 148.0,182.2 148.0,183.0 151.0,183.0 151.0,183.8 157.0,183.8 157.0,183.0 163.0,183.0 163.0,183.0 169.0,183.0 169.0,182.2 172.0,182.2 172.0,183.0 178.0,183.0 178.0,182.2 181.0,182.2 181.0,183.0 184.0,183.0 184.0,183.9 190.0,183.9 190.0,182.4 196.0,182.4 196.0,182.5 199.0,182.5 199.0,184.2 202.0,184.2 202.0,182.6 205.0,182.6 205.0,183.5 208.0,183.5 208.0,182.7 211.0,182.7 211.0,184.4 217.0,184.4 217.0,182.9 220.0,182.9 220.0,184.5 223.0,184.5 223.0,183.8 229.0,183.8 229.0,183.9 232.0,183.9 232.0,184.8 234.0,184.8" fill="none" stroke="#0a1a10" stroke-width="1.6"/>
<polyline points="4.0,204.0 10.0,204.0 10.0,203.7 16.0,203.7 16.0,203.4 19.0,203.4 19.0,203.2 22.0,203.2 22.0,202.0 25.0,202.0 25.0,203.9 28.0,203.9 28.0,201.7 34.0,201.7 34.0,202.4 37.0,202.4 37.0,201.2 40.0,201.2 40.0,202.1 43.0,202.1 43.0,201.9 49.0,201.9 49.0,201.6 52.0,201.6 52.0,201.4 55.0,201.4 55.0,202.3 58.0,202.3 58.0,200.1 61.0,200.1 61.0,201.9 64.0,201.9 64.0,200.7 67.0,200.7 67.0,201.5 73.0,201.5 73.0,201.1 76.0,201.1 76.0,200.9 79.0,200.9 79.0,199.7 82.0,199.7 82.0,198.5 88.0,198.5 88.0,199.1 91.0,199.1 91.0,198.9 97.0,198.9 97.0,199.5 100.0,199.5 100.0,197.3 103.0,197.3 103.0,198.1 109.0,198.1 109.0,197.7 115.0,197.7 115.0,196.3 118.0,196.3 118.0,197.1 121.0,197.1 121.0,196.0 124.0,196.0 124.0,197.0 127.0,197.0 127.0,197.0 130.0,197.0 130.0,197.0 133.0,197.0 133.0,197.0 136.0,197.0 136.0,197.0 142.0,197.0 142.0,198.0 148.0,198.0 148.0,197.0 151.0,197.0 151.0,197.0 154.0,197.0 154.0,197.0 157.0,197.0 157.0,196.0 160.0,196.0 160.0,196.0 166.0,196.0 166.0,196.0 169.0,196.0 169.0,196.0 175.0,196.0 175.0,197.0 178.0,197.0 178.0,197.0 181.0,197.0 181.0,198.0 184.0,198.0 184.0,197.0 190.0,197.0 190.0,198.0 193.0,198.0 193.0,197.0 196.0,197.0 196.0,197.0 199.0,197.0 199.0,197.0 202.0,197.0 202.0,196.0 205.0,196.0 205.0,197.0 208.0,197.0 208.0,197.0 214.0,197.0 214.0,197.0 217.0,197.0 217.0,198.0 223.0,198.0 223.0,197.0 226.0,197.0 226.0,197.0 229.0,197.0 229.0,197.0 232.0,197.0 232.0,196.0 234.0,196.0" fill="none" stroke="#101010" stroke-width="1.6"/>
<polyline points="4.0,311.0 10.0,311.0 10.0,311.8 13.0,311.8 13.0,311.8 16.0,311.8 16.0,311.8 22.0,311.8 22.0,311.8 28.0,311.8 28.0,311.8 34.0,311.8 34.0,311.0 40.0,311.0 40.0,311.0 43.0,311.0 43.0,311.0 46.0,311.0 46.0,311.0 49.0,311.0 49.0,311.0 52.0,311.0 52.0,311.0 55.0,311.0 55.0,310.2 61.0,310.2 61.0,311.1 64.0,311.1 64.0,311.2 67.0,311.2 67.0,310.5 73.0,310.5 73.0,312.4 79.0,312.4 79.0,311.9 85.0,311.9 85.0,312.2 91.0,312.2 91.0,312.6 94.0,312.6 94.0,313.5 97.0,313.5 97.0,312.9 100.0,312.9 100.0,313.8 103.0,313.8 103.0,313.1 106.0,313.1 106.0,313.3 112.0,313.3 112.0,313.6 115.0,313.6 115.0,312.9 118.0,312.9 118.0,313.9 121.0,313.9 121.0,314.0 124.0,314.0 124.0,314.1 127.0,314.1 127.0,313.4 130.0,313.4 130.0,314.3 136.0,314.3 136.0,314.5 139.0,314.5 139.0,313.8 142.0,313.8 142.0,314.7 145.0,314.7 145.0,314.8 148.0,314.8 148.0,314.1 151.0,314.1 151.0,314.2 154.0,314.2 154.0,315.1 160.0,315.1 160.0,315.3 163.0,315.3 163.0,315.4 169.0,315.4 169.0,316.4 172.0,316.4 172.0,316.5 175.0,316.5 175.0,315.8 181.0,315.8 181.0,316.0 184.0,316.0 184.0,316.8 190.0,316.8 190.0,316.0 196.0,316.0 196.0,315.2 202.0,315.2 202.0,316.0 205.0,316.0 205.0,315.2 208.0,315.2 208.0,316.0 214.0,316.0 214.0,316.0 217.0,316.0 217.0,316.8 220.0,316.8 220.0,315.2 226.0,315.2 226.0,315.2 232.0,315.2 232.0,316.0 234.0,316.0" fill="none" stroke="#301020" stroke-width="1.6"/>
<polyline points="4.0,334.0 7.0,334.0 7.0,334.8 10.0,334.8 10.0,333.2 16.0,333.2 16.0,333.2 22.0,333.2 22.0,334.8 25.0,334.8 25.0,333.2 28.0,333.2 28.0,334.0 34.0,334.0 34.0,334.0 37.0,334.0 37.0,334.8 40.0,334.8 40.0,334.8 43.0,334.8 43.0,334.8 49.0,334.8 49.0,334.0 52.0,334.0 52.0,334.0 55.0,334.0 55.0,334.0 58.0,334.0 58.0,334.0 64.0,334.0 64.0,333.9 70.0,333.9 70.0,333.8 73.0,333.8 73.0,334.6 76.0,334.6 76.0,334.5 79.0,334.5 79.0,332.9 85.0,332.9 85.0,333.6 91.0,333.6 91.0,334.3 94.0,334.3 94.0,333.4 97.0,333.4 97.0,334.2 100.0,334.2 100.0,332.5 106.0,332.5 106.0,333.2 109.0,333.2 109.0,332.4 112.0,332.4 112.0,332.3 115.0,332.3 115.0,333.9 118.0,333.9 118.0,333.8 121.0,333.8 121.0,333.9 124.0,333.9 124.0,333.2 127.0,333.2 127.0,332.5 130.0,332.5 130.0,333.5 133.0,333.5 133.0,333.7 139.0,333.7 139.0,333.9 142.0,333.9 142.0,334.1 145.0,334.1 145.0,335.1 148.0,335.1 148.0,335.2 151.0,335.2 151.0,334.6 154.0,334.6 154.0,335.5 160.0,335.5 160.0,335.8 163.0,335.8 163.0,335.1 169.0,335.1 169.0,335.4 172.0,335.4 172.0,335.6 175.0,335.6 175.0,335.8 178.0,335.8 178.0,335.9 181.0,335.9 181.0,336.0 184.0,336.0 184.0,336.9 187.0,336.9 187.0,336.3 193.0,336.3 193.0,335.7 199.0,335.7 199.0,336.7 202.0,336.7 202.0,336.8 205.0,336.8 205.0,337.7 208.0,337.7 208.0,336.2 211.0,336.2 211.0,337.9 214.0,337.9 214.0,336.5 217.0,336.5 217.0,336.6 220.0,336.6 220.0,337.5 226.0,337.5 226.0,337.7 229.0,337.7 229.0,337.8 232.0,337.8 232.0,337.9 234.0,337.9" fill="none" stroke="#402010" stroke-width="1.5"/>
<polyline points="4.0,65.0 12.0,65.0 12.0,64.5 60.0,64.5 90.0,65.0 95.0,67.0 100.0,67.0 103.0,65.0 110.0,64.0 120.0,64.0 150.0,64.0 165.0,63.5" fill="none" stroke="#880058" stroke-width="2.2"/>
<polyline points="4.0,57.0 7.0,57.0 7.0,56.1 13.0,56.1 13.0,58.2 19.0,58.2 19.0,57.3 25.0,57.3 25.0,56.4 28.0,56.4 28.0,58.4 31.0,58.4 31.0,57.5 37.0,57.5 37.0,57.6 40.0,57.6 40.0,56.6 46.0,56.6 46.0,57.8 49.0,57.8 49.0,58.8 52.0,58.8 52.0,57.9 55.0,57.9 55.0,57.9 58.0,57.9 58.0,58.0 61.0,58.0 61.0,58.0 64.0,58.0 64.0,59.1 70.0,59.1 70.0,59.2 73.0,59.2 73.0,58.2 79.0,58.2 79.0,58.3 82.0,58.3 82.0,58.4 88.0,58.4 88.0,59.5 94.0,59.5 94.0,58.6 97.0,58.6 97.0,58.6 100.0,58.6 100.0,59.7 103.0,59.7 103.0,58.7 106.0,58.7 106.0,57.8 109.0,57.8 109.0,58.8 115.0,58.8 115.0,57.9 118.0,57.9 118.0,59.0 121.0,59.0 121.0,58.9 125.0,58.9" fill="none" stroke="#101010" stroke-width="1.4"/>
<polyline points="27.6,15.9 33.0,15.9 33.0,15.2 38.0,15.2 38.0,16.0 45.0,16.0" fill="none" stroke="#101010" stroke-width="1.6"/>
<polyline points="49.4,18.0 46.0,19.5 42.0,21.0 38.0,23.0 34.0,25.0 30.0,27.5" fill="none" stroke="#101010" stroke-width="1.8"/>
<polyline points="56.0,19.0 62.0,19.0" fill="none" stroke="#101010" stroke-width="1.4"/>
<polyline points="52.0,27.5 56.0,28.5" fill="none" stroke="#101010" stroke-width="1.4"/>
<polyline points="4.0,55.5 10.0,55.5 10.0,56.5 25.0,56.5 25.0,58.5 45.0,59.0 60.0,60.0 80.0,60.0 100.0,59.5 118.0,58.0" fill="none" stroke="#101010" stroke-width="1.4"/>
<polyline points="120.0,142.5 130.0,143.0 140.0,144.0" fill="none" stroke="#101010" stroke-width="1.4"/>
<polyline points="190.0,149.0 210.0,148.0 234.0,147.0" fill="none" stroke="#101010" stroke-width="1.4"/>
<polyline points="115.0,157.0 140.0,155.0 170.0,153.0 200.0,150.0" fill="none" stroke="#0a2a1a" stroke-width="1.3"/>
<polyline points="160.0,178.5 185.0,178.0" fill="none" stroke="#101010" stroke-width="1.4"/>
<polyline points="4.0,227.0 7.0,227.0 7.0,227.7 10.0,227.7 10.0,227.7 16.0,227.7 16.0,226.8 19.0,226.8 19.0,226.7 22.0,226.7 22.0,225.9 25.0,225.9 25.0,226.6 31.0,226.6 31.0,226.5 34.0,226.5 34.0,226.5 37.0,226.5 37.0,226.4 40.0,226.4 40.0,227.2 43.0,227.2 43.0,227.1 46.0,227.1 46.0,226.2 49.0,226.2 49.0,226.2 52.0,226.2 52.0,226.9 55.0,226.9" fill="none" stroke="#101010" stroke-width="1.4"/>
<polyline points="4.0,211.0 9.0,211.0 9.0,210.9 11.5,210.9 11.5,208.9 14.0,208.9 14.0,210.8 16.5,210.8 16.5,209.8 19.0,209.8 19.0,209.7 21.5,209.7 21.5,209.7 26.5,209.7 26.5,208.6 31.5,208.6 31.5,210.5 34.0,210.5 34.0,208.5 36.5,208.5 36.5,209.4 39.0,209.4 39.0,208.4 44.0,208.4 44.0,209.3 46.5,209.3 46.5,209.2 51.5,209.2 51.5,210.2 56.5,210.2 56.5,208.1 59.0,208.1 59.0,208.0 61.5,208.0 61.5,209.0 64.0,209.0 64.0,208.9 66.5,208.9 66.5,207.9 69.0,207.9 69.0,208.8 71.5,208.8 71.5,208.8 74.0,208.8 74.0,208.8 76.5,208.8 76.5,208.7 81.5,208.7 81.5,208.6 84.0,208.6 84.0,209.6 89.0,209.6 89.0,208.5 91.5,208.5 91.5,207.5 94.0,207.5 94.0,209.4 99.0,209.4 99.0,209.4 101.5,209.4 101.5,208.3 104.0,208.3 104.0,209.3 106.5,209.3 106.5,208.2 109.0,208.2 109.0,207.2 110.0,207.2" fill="none" stroke="#101010" stroke-width="1.3"/>
<polyline points="4.0,262.0 10.0,262.0 10.0,263.3 13.0,263.3 13.0,263.5 16.0,263.5 16.0,261.6 19.0,261.6 19.0,261.8 22.0,261.8 22.0,264.0 25.0,264.0 25.0,263.1 28.0,263.1 28.0,263.3 31.0,263.3 31.0,263.4 34.0,263.4 34.0,263.6 37.0,263.6 37.0,264.8 43.0,264.8 43.0,264.1 46.0,264.1 46.0,265.2 49.0,265.2 49.0,263.4 55.0,263.4 55.0,264.7 58.0,264.7 58.0,263.9 61.0,263.9 61.0,264.1 67.0,264.1 67.0,265.5 70.0,265.5 70.0,264.7 76.0,264.7 76.0,265.1 79.0,265.1 79.0,267.3 82.0,267.3 82.0,266.5 88.0,266.5 88.0,265.9 91.0,265.9 91.0,267.1 94.0,267.1 94.0,267.3 97.0,267.3 97.0,268.5 100.0,268.5 100.0,267.7 106.0,267.7 106.0,269.1 109.0,269.1 109.0,268.3 112.0,268.3 112.0,268.5 115.0,268.5 115.0,267.7 118.0,267.7 118.0,268.9 121.0,268.9 121.0,268.9 124.0,268.9 124.0,267.5 130.0,267.5 130.0,267.8 133.0,267.8 133.0,267.5 136.0,267.5 136.0,268.1 139.0,268.1 139.0,265.8 145.0,265.8 145.0,267.1 148.0,267.1 148.0,265.7 154.0,265.7 154.0,266.0 157.0,266.0 157.0,264.7 160.0,264.7 160.0,265.3 163.0,265.3 163.0,265.0 166.0,265.0 166.0,264.6 169.0,264.6 169.0,264.3 172.0,264.3 172.0,263.9 175.0,263.9 175.0,261.6 178.0,261.6 178.0,262.2 184.0,262.2 184.0,260.1 190.0,260.1 190.0,259.8 193.0,259.8 193.0,259.1 196.0,259.1 196.0,257.4 199.0,257.4 199.0,257.8 202.0,257.8 202.0,257.1 205.0,257.1 205.0,255.4 208.0,255.4 208.0,255.8 211.0,255.8 211.0,256.1 217.0,256.1 217.0,254.8 220.0,254.8 220.0,253.1 223.0,253.1 223.0,253.4 226.0,253.4 226.0,252.8 229.0,252.8 229.0,250.1 234.0,250.1" fill="none" stroke="#101010" stroke-width="1.4"/>
<polyline points="4.0,284.0 10.0,284.0 10.0,284.1 16.0,284.1 16.0,284.2 19.0,284.2 19.0,284.3 22.0,284.3 22.0,284.3 28.0,284.3 28.0,283.4 34.0,283.4 34.0,284.5 37.0,284.5 37.0,284.6 40.0,284.6 40.0,285.6 43.0,285.6 43.0,283.7 46.0,283.7 46.0,284.8 49.0,284.8 49.0,285.8 52.0,285.8 52.0,283.9 55.0,283.9 55.0,283.9 58.0,283.9 58.0,284.0 61.0,284.0 61.0,286.0 67.0,286.0 67.0,286.2 70.0,286.2 70.0,285.3 73.0,285.3 73.0,286.4 76.0,286.4 76.0,285.5 82.0,285.5 82.0,284.7 85.0,284.7 85.0,285.8 88.0,285.8 88.0,285.9 91.0,285.9 91.0,286.0 97.0,286.0 97.0,286.2 100.0,286.2 100.0,287.3 103.0,287.3 103.0,286.4 106.0,286.4 106.0,286.5 109.0,286.5 109.0,286.6 115.0,286.6 115.0,286.8 118.0,286.8 118.0,285.9 121.0,285.9 121.0,286.9 124.0,286.9 124.0,286.7 130.0,286.7 130.0,285.2 136.0,285.2 136.0,286.7 139.0,286.7 139.0,284.4 142.0,284.4 142.0,286.2 145.0,286.2 145.0,285.9 148.0,285.9 148.0,283.7 151.0,283.7 151.0,284.4 154.0,284.4 154.0,283.2 157.0,283.2 157.0,283.9 160.0,283.9 160.0,283.7 166.0,283.7 166.0,283.2 169.0,283.2 169.0,282.9 175.0,282.9 175.0,281.4 178.0,281.4 178.0,282.2 181.0,282.2 181.0,280.9 184.0,280.9 184.0,281.6 187.0,281.6 187.0,280.4 190.0,280.4 190.0,281.1 193.0,281.1 193.0,280.8 196.0,280.8 196.0,280.5 199.0,280.5 199.0,280.2 202.0,280.2 202.0,280.0 205.0,280.0 205.0,279.7 208.0,279.7 208.0,280.4 214.0,280.4 214.0,279.9 217.0,279.9 217.0,279.6 220.0,279.6 220.0,279.3 226.0,279.3 226.0,277.7 232.0,277.7 232.0,276.2 234.0,276.2" fill="none" stroke="#14301a" stroke-width="1.6"/>
<polyline points="4.0,240.0 6.0,240.0 6.0,240.0 8.0,240.0 8.0,240.1 12.0,240.1 12.0,240.1 14.0,240.1 14.0,239.0 16.0,239.0 16.0,240.2 18.0,240.2 18.0,241.4 20.0,241.4 20.0,240.3 24.0,240.3 24.0,240.4 26.0,240.4 26.0,241.6 28.0,241.6 28.0,239.2 30.0,239.2 30.0,240.5 32.0,240.5 32.0,239.3 34.0,239.3 34.0,241.7 38.0,241.7 38.0,240.6 40.0,240.6 40.0,240.6 42.0,240.6 42.0,239.5 44.0,239.5 44.0,240.7 48.0,240.7 48.0,242.0 50.0,242.0 50.0,240.8 54.0,240.8 54.0,240.9 56.0,240.9 56.0,240.9 58.0,240.9 58.0,241.0 62.0,241.0 62.0,241.0 64.0,241.0 64.0,239.9 66.0,239.9 66.0,242.3 68.0,242.3 68.0,241.1 70.0,241.1 70.0,240.0 72.0,240.0 72.0,241.2 74.0,241.2 74.0,242.4 76.0,242.4 76.0,241.3 80.0,241.3 80.0,241.3 84.0,241.3 84.0,242.6 88.0,242.6 88.0,241.5 90.0,241.5 90.0,241.5 94.0,241.5 94.0,241.6 96.0,241.6 96.0,242.8 100.0,242.8" fill="none" stroke="#101010" stroke-width="1.6"/>
<polyline points="4.0,274.0 6.0,274.0 6.0,274.1 8.0,274.1 8.0,274.1 10.0,274.1 10.0,274.2 12.0,274.2 12.0,273.1 16.0,273.1 16.0,274.4 18.0,274.4 18.0,275.7 22.0,275.7 22.0,275.8 26.0,275.8 26.0,274.8 30.0,274.8 30.0,276.1 32.0,276.1 32.0,275.0 34.0,275.0 34.0,276.3 38.0,276.3 38.0,275.2 40.0,275.2 40.0,276.5 42.0,276.5 42.0,274.2 44.0,274.2 44.0,276.6 46.0,276.6 46.0,275.5 48.0,275.5 48.0,276.8 50.0,276.8 50.0,276.8 52.0,276.8 52.0,274.5 54.0,274.5 54.0,275.8 56.0,275.8 56.0,277.1 58.0,277.1 58.0,274.7 60.0,274.7 60.0,274.8 62.0,274.8 62.0,276.1 64.0,276.1 64.0,276.1 68.0,276.1 68.0,275.1 70.0,275.1 70.0,277.5 74.0,277.5 74.0,276.5 76.0,276.5 76.0,275.3 80.0,275.3 80.0,275.5 82.0,275.5 82.0,276.7 84.0,276.7 84.0,276.8 86.0,276.8 86.0,276.9 88.0,276.9 88.0,276.9 92.0,276.9 92.0,277.1 94.0,277.1 94.0,277.1 98.0,277.1 98.0,277.3 100.0,277.3 100.0,277.3 102.0,277.3 102.0,278.6 104.0,278.6 104.0,277.5 108.0,277.5 108.0,277.6 110.0,277.6" fill="none" stroke="#101010" stroke-width="1.6"/>
<polyline points="4.0,346.0 6.0,346.0 6.0,346.1 8.0,346.1 8.0,347.3 10.0,347.3 10.0,346.2 14.0,346.2 14.0,346.4 16.0,346.4 16.0,346.4 18.0,346.4 18.0,345.3 22.0,345.3 22.0,345.4 26.0,345.4 26.0,346.8 28.0,346.8 28.0,345.7 30.0,345.7 30.0,348.1 34.0,348.1 34.0,347.1 36.0,347.1 36.0,348.3 38.0,348.3 38.0,347.2 40.0,347.2 40.0,347.3 42.0,347.3 42.0,348.6 44.0,348.6 44.0,347.4 48.0,347.4 48.0,346.4 50.0,346.4 50.0,347.6 52.0,347.6 52.0,347.7 56.0,347.7 56.0,346.7 60.0,346.7 60.0,346.8 62.0,346.8 62.0,348.1 64.0,348.1 64.0,349.3 66.0,349.3 66.0,348.2 68.0,348.2 68.0,348.3 70.0,348.3 70.0,348.3 74.0,348.3 74.0,347.3 76.0,347.3 76.0,347.3 78.0,347.3 78.0,348.6 80.0,348.6 80.0,347.5 84.0,347.5 84.0,348.8 88.0,348.8 88.0,348.9 90.0,348.9 90.0,349.0 94.0,349.0 94.0,349.1 96.0,349.1 96.0,349.2 100.0,349.2 100.0,350.5 102.0,350.5 102.0,349.4 104.0,349.4 104.0,349.5 108.0,349.5 108.0,349.6 110.0,349.6 110.0,348.5 112.0,348.5 112.0,349.7 116.0,349.7 116.0,349.9 118.0,349.9 118.0,349.9 120.0,349.9 120.0,348.8 124.0,348.8 124.0,350.1 128.0,350.1 128.0,351.5 130.0,351.5" fill="none" stroke="#101010" stroke-width="1.6"/>
<polyline points="4.0,361.2 6.0,361.2 6.0,360.1 8.0,360.1 8.0,358.9 10.0,358.9 10.0,359.0 12.0,359.0 12.0,360.3 14.0,360.3 14.0,360.4 16.0,360.4 16.0,359.2 18.0,359.2 18.0,360.5 20.0,360.5 20.0,361.8 22.0,361.8 22.0,361.8 26.0,361.8 26.0,360.8 30.0,360.8 30.0,360.9 32.0,360.9 32.0,361.0 36.0,361.0 36.0,359.9 40.0,359.9 40.0,362.5 44.0,362.5 44.0,360.2 46.0,360.2 46.0,362.7 50.0,362.7 50.0,362.8 52.0,362.8 52.0,362.9 54.0,362.9 54.0,361.8 56.0,361.8 56.0,361.9 58.0,361.9 58.0,360.7 60.0,360.7 60.0,362.0 64.0,362.0 64.0,362.1 68.0,362.1 68.0,361.1 70.0,361.1 70.0,363.5 74.0,363.5 74.0,362.5 76.0,362.5 76.0,362.5 78.0,362.5 78.0,361.4 80.0,361.4 80.0,362.7 82.0,362.7 82.0,362.7 84.0,362.7 84.0,362.8 86.0,362.8 86.0,364.1 88.0,364.1 88.0,362.9 90.0,362.9 90.0,364.2 92.0,364.2 92.0,361.9 94.0,361.9 94.0,364.3 98.0,364.3 98.0,363.3 102.0,363.3 102.0,363.4 104.0,363.4 104.0,364.7 108.0,364.7 108.0,362.4 112.0,362.4 112.0,363.7 114.0,363.7 114.0,362.6 116.0,362.6 116.0,362.7 118.0,362.7 118.0,363.9 120.0,363.9 120.0,364.0 124.0,364.0 124.0,362.9 126.0,362.9 126.0,363.0 128.0,363.0 128.0,363.1 130.0,363.1" fill="none" stroke="#101010" stroke-width="1.6"/>
<polyline points="4.0,370.8 8.0,370.8 8.0,370.9 10.0,370.9 10.0,372.1 12.0,372.1 12.0,370.9 16.0,370.9 16.0,373.4 18.0,373.4 18.0,372.2 20.0,372.2 20.0,372.3 22.0,372.3 22.0,371.1 24.0,371.1 24.0,371.2 28.0,371.2 28.0,372.4 30.0,372.4 30.0,371.3 32.0,371.3 32.0,371.3 36.0,371.3 36.0,372.6 38.0,372.6 38.0,372.6 40.0,372.6 40.0,373.8 42.0,373.8 42.0,371.5 44.0,371.5 44.0,372.7 46.0,372.7 46.0,371.6 50.0,371.6 50.0,372.8 52.0,372.8 52.0,374.1 54.0,374.1 54.0,371.7 56.0,371.7 56.0,371.7 58.0,371.7 58.0,371.8 60.0,371.8 60.0,374.2 64.0,374.2 64.0,371.9 68.0,371.9 68.0,373.1 72.0,373.1 72.0,372.0 76.0,372.0 76.0,373.3 78.0,373.3 78.0,374.5 80.0,374.5 80.0,373.3 82.0,373.3 82.0,372.2 84.0,372.2 84.0,373.4 86.0,373.4 86.0,372.2 88.0,372.2 88.0,373.5 90.0,373.5 90.0,373.5 94.0,373.5 94.0,373.6 98.0,373.6 98.0,373.6 100.0,373.6 100.0,373.7 104.0,373.7 104.0,373.7 106.0,373.7 106.0,373.8 108.0,373.8 108.0,372.6 110.0,372.6 110.0,372.6 114.0,372.6 114.0,373.9 116.0,373.9 116.0,372.7 118.0,372.7 118.0,375.2 122.0,375.2 122.0,372.8 124.0,372.8 124.0,372.9 126.0,372.9 126.0,374.1 128.0,374.1 128.0,374.1 130.0,374.1" fill="none" stroke="#101010" stroke-width="1.6"/>
<polyline points="160.0,345.0 163.0,345.0 163.0,345.1 166.0,345.1 166.0,345.3 172.0,345.3 172.0,344.6 175.0,344.6 175.0,345.8 181.0,345.8 181.0,346.1 184.0,346.1 184.0,346.4 187.0,346.4 187.0,347.8 190.0,347.8 190.0,347.1 196.0,347.1 196.0,347.8 199.0,347.8 199.0,348.1 202.0,348.1 202.0,348.4 208.0,348.4 208.0,349.1 211.0,349.1 211.0,349.4 217.0,349.4 217.0,350.1 223.0,350.1 223.0,350.8 226.0,350.8 226.0,351.1 232.0,351.1 232.0,351.8 234.0,351.8" fill="none" stroke="#101010" stroke-width="1.4"/>
<polyline points="4.0,299.0 6.5,299.0 6.5,299.0 9.0,299.0 9.0,298.0 11.5,298.0 11.5,298.0 14.0,298.0 14.0,300.0 16.5,300.0 16.5,299.0 19.0,299.0 19.0,299.0 21.5,299.0 21.5,299.0 24.0,299.0 24.0,298.0 29.0,298.0 29.0,298.0 31.5,298.0 31.5,299.0 34.0,299.0 34.0,300.0 36.5,300.0 36.5,298.0 39.0,298.0 39.0,300.0 44.0,300.0 44.0,299.0 49.0,299.0 49.0,299.0 51.5,299.0 51.5,298.0 54.0,298.0 54.0,299.0 59.0,299.0 59.0,300.0 61.5,300.0 61.5,299.0 64.0,299.0 64.0,300.1 66.5,300.1 66.5,299.1 71.5,299.1 71.5,299.2 76.5,299.2 76.5,298.3 79.0,298.3 79.0,300.3 81.5,300.3 81.5,299.4 86.5,299.4 86.5,298.4 89.0,298.4 89.0,299.5 91.5,299.5 91.5,299.5 94.0,299.5 94.0,300.6 96.5,300.6 96.5,300.6 99.0,300.6 99.0,300.6 104.0,300.6 104.0,299.7 109.0,299.7 109.0,299.8 111.5,299.8 111.5,300.9 114.0,300.9 114.0,298.9 116.5,298.9 116.5,299.9 121.5,299.9 121.5,300.0 124.0,300.0 124.0,300.0 129.0,300.0 129.0,300.0 131.5,300.0 131.5,301.0 136.5,301.0 136.5,300.0 141.5,300.0 141.5,301.0 146.5,301.0 146.5,299.0 151.5,299.0 151.5,300.0 156.5,300.0 156.5,300.0 159.0,300.0 159.0,301.0 161.5,301.0 161.5,300.0 164.0,300.0 164.0,299.0 169.0,299.0 169.0,300.0 174.0,300.0 174.0,299.0 176.5,299.0 176.5,300.0 179.0,300.0 179.0,301.0 181.5,301.0 181.5,299.0 184.0,299.0 184.0,301.0 186.5,301.0 186.5,300.0 191.5,300.0 191.5,300.0 194.0,300.0 194.0,300.0 196.5,300.0 196.5,301.0 201.5,301.0 201.5,300.0 204.0,300.0 204.0,301.0 206.5,301.0 206.5,300.0 209.0,300.0 209.0,299.0 214.0,299.0 214.0,300.0 216.5,300.0 216.5,300.0 219.0,300.0 219.0,300.0 224.0,300.0 224.0,301.0 226.5,301.0 226.5,300.0 231.5,300.0 231.5,300.0 234.0,300.0" fill="none" stroke="#101010" stroke-width="1.2"/>
<polyline points="20.0,340.0 30.0,341.0 30.0,343.0 40.0,345.0 50.0,348.0 60.0,352.0 70.0,356.0 80.0,360.0 90.0,364.0 100.0,368.0 110.0,372.0" fill="none" stroke="#101010" stroke-width="1.8"/>
<polyline points="5.0,356.0 20.0,358.0 35.0,361.0 50.0,363.0 60.0,366.0 75.0,371.0 90.0,376.0" fill="none" stroke="#101010" stroke-width="1.8"/>
<polyline points="8.0,370.0 25.0,372.0 40.0,375.0 55.0,380.0 60.0,386.0" fill="none" stroke="#101010" stroke-width="1.6"/>
<polyline points="42.4,22.1 47.4,22.1" fill="none" stroke="#111" stroke-width="1.8"/>
<polyline points="56.1,15.4 62.1,15.4" fill="none" stroke="#111" stroke-width="1.8"/>
<polyline points="47.9,15.4 52.9,15.4 52.9,13.4 57.9,13.4" fill="none" stroke="#111" stroke-width="1.8"/>
<polyline points="54.5,24.5 56.5,24.5" fill="none" stroke="#111" stroke-width="1.8"/>
<polyline points="40.5,20.2 48.5,20.2" fill="none" stroke="#111" stroke-width="1.8"/>
<polyline points="32.4,12.3 38.4,12.3 38.4,10.3 40.4,10.3" fill="none" stroke="#111" stroke-width="1.8"/>
<polyline points="56.9,22.8 61.9,22.8 61.9,20.8 66.9,20.8" fill="none" stroke="#111" stroke-width="1.8"/>
<polyline points="34.9,17.3 36.9,17.3" fill="none" stroke="#111" stroke-width="1.8"/>
<polyline points="52.9,53.3 58.9,53.3" fill="none" stroke="#111" stroke-width="1.8"/>
<polyline points="93.9,58.5 97.9,58.5" fill="none" stroke="#111" stroke-width="1.8"/>
<polyline points="58.9,50.4 64.9,50.4" fill="none" stroke="#111" stroke-width="1.8"/>
<polyline points="46.8,60.2 51.8,60.2 51.8,58.2 56.8,58.2" fill="none" stroke="#111" stroke-width="1.8"/>
<polyline points="4.1,52.5 6.1,52.5" fill="none" stroke="#111" stroke-width="1.8"/>
<polyline points="108.9,54.8 110.9,54.8" fill="none" stroke="#111" stroke-width="1.8"/>
<polyline points="25.2,58.1 29.2,58.1 29.2,60.1 31.2,60.1" fill="none" stroke="#111" stroke-width="1.8"/>
<polyline points="107.2,59.1 109.2,59.1 109.2,57.1 111.2,57.1" fill="none" stroke="#111" stroke-width="1.8"/>
<polyline points="121.9,71.3 124.9,71.3" fill="none" stroke="#111" stroke-width="1.8"/>
<polyline points="136.7,61.8 144.7,61.8" fill="none" stroke="#111" stroke-width="1.8"/>
<polyline points="163.2,57.7 168.2,57.7" fill="none" stroke="#111" stroke-width="1.8"/>
<polyline points="139.5,53.9 145.5,53.9 145.5,51.9 147.5,51.9" fill="none" stroke="#111" stroke-width="1.8"/>
<polyline points="136.5,77.9 142.5,77.9" fill="none" stroke="#111" stroke-width="1.8"/>
<polyline points="126.5,77.6 129.5,77.6" fill="none" stroke="#111" stroke-width="1.8"/>
<polyline points="116.1,65.1 120.1,65.1 120.1,63.1 122.1,63.1" fill="none" stroke="#111" stroke-width="1.8"/>
<polyline points="139.0,66.0 141.0,66.0" fill="none" stroke="#111" stroke-width="1.8"/>
<polyline points="157.7,60.0 163.7,60.0" fill="none" stroke="#111" stroke-width="1.8"/>
<polyline points="181.1,73.6 184.1,73.6" fill="none" stroke="#111" stroke-width="1.8"/>
<polyline points="150.7,52.5 156.7,52.5 156.7,50.5 158.7,50.5" fill="none" stroke="#111" stroke-width="1.8"/>
<polyline points="200.0,76.0 203.0,76.0" fill="none" stroke="#111" stroke-width="1.8"/>
<polyline points="159.6,60.9 161.6,60.9" fill="none" stroke="#111" stroke-width="1.8"/>
<polyline points="126.9,46.3 130.9,46.3 130.9,48.3 133.9,48.3" fill="none" stroke="#111" stroke-width="1.8"/>
<polyline points="163.4,74.9 168.4,74.9 168.4,72.9 173.4,72.9" fill="none" stroke="#111" stroke-width="1.8"/>
<polyline points="227.4,49.2 232.4,49.2" fill="none" stroke="#111" stroke-width="1.8"/>
<polyline points="213.0,65.3 217.0,65.3 217.0,63.3 222.0,63.3" fill="none" stroke="#111" stroke-width="1.8"/>
<polyline points="116.9,53.9 121.9,53.9 121.9,51.9 123.9,51.9" fill="none" stroke="#111" stroke-width="1.8"/>
<polyline points="147.4,62.5 150.4,62.5 150.4,60.5 153.4,60.5" fill="none" stroke="#111" stroke-width="1.8"/>
<polyline points="227.8,66.7 235.8,66.7" fill="none" stroke="#111" stroke-width="1.8"/>
<polyline points="223.9,64.5 225.9,64.5" fill="none" stroke="#111" stroke-width="1.8"/>
<polyline points="156.1,55.3 158.1,55.3 158.1,53.3 161.1,53.3" fill="none" stroke="#111" stroke-width="1.8"/>
<polyline points="122.7,55.3 125.7,55.3" fill="none" stroke="#111" stroke-width="1.8"/>
<polyline points="123.7,63.0 131.7,63.0 131.7,61.0 134.7,61.0" fill="none" stroke="#111" stroke-width="1.8"/>
<polyline points="155.5,67.6 157.5,67.6" fill="none" stroke="#111" stroke-width="1.8"/>
<polyline points="163.0,71.1 168.0,71.1" fill="none" stroke="#111" stroke-width="1.8"/>
<polyline points="186.9,57.6 192.9,57.6 192.9,55.6 194.9,55.6" fill="none" stroke="#111" stroke-width="1.8"/>
<polyline points="125.4,48.8 129.4,48.8" fill="none" stroke="#111" stroke-width="1.8"/>
<polyline points="78.3,205.8 86.3,205.8" fill="none" stroke="#111" stroke-width="1.8"/>
<polyline points="50.7,206.9 56.7,206.9 56.7,204.9 59.7,204.9" fill="none" stroke="#111" stroke-width="1.8"/>
<polyline points="65.3,207.2 68.3,207.2" fill="none" stroke="#111" stroke-width="1.8"/>
<polyline points="15.5,211.7 23.5,211.7" fill="none" stroke="#111" stroke-width="1.8"/>
<polyline points="30.1,200.2 34.1,200.2 34.1,198.2 39.1,198.2" fill="none" stroke="#111" stroke-width="1.8"/>
<polyline points="21.3,213.6 29.3,213.6" fill="none" stroke="#111" stroke-width="1.8"/>
<polyline points="54.8,203.6 59.8,203.6" fill="none" stroke="#111" stroke-width="1.8"/>
<polyline points="24.2,206.5 27.2,206.5" fill="none" stroke="#111" stroke-width="1.8"/>
<polyline points="43.2,208.7 47.2,208.7 47.2,206.7 50.2,206.7" fill="none" stroke="#111" stroke-width="1.8"/>
<polyline points="39.8,213.4 41.8,213.4" fill="none" stroke="#111" stroke-width="1.8"/>
<polyline points="100.9,204.2 103.9,204.2 103.9,206.2 106.9,206.2" fill="none" stroke="#111" stroke-width="1.8"/>
<polyline points="98.4,212.5 103.4,212.5" fill="none" stroke="#111" stroke-width="1.8"/>
<polyline points="54.4,204.7 60.4,204.7" fill="none" stroke="#111" stroke-width="1.8"/>
<polyline points="11.6,200.5 17.6,200.5 17.6,202.5 22.6,202.5" fill="none" stroke="#111" stroke-width="1.8"/>
<polyline points="84.1,227.1 90.1,227.1 90.1,225.1 93.1,225.1" fill="none" stroke="#111" stroke-width="1.8"/>
<polyline points="106.8,218.3 110.8,218.3 110.8,216.3 112.8,216.3" fill="none" stroke="#111" stroke-width="1.8"/>
<polyline points="226.4,219.6 228.4,219.6" fill="none" stroke="#111" stroke-width="1.8"/>
<polyline points="152.0,229.3 154.0,229.3" fill="none" stroke="#111" stroke-width="1.8"/>
<polyline points="49.1,224.7 52.1,224.7" fill="none" stroke="#111" stroke-width="1.8"/>
<polyline points="174.6,225.5 176.6,225.5 176.6,227.5 179.6,227.5" fill="none" stroke="#111" stroke-width="1.8"/>
<polyline points="126.0,231.3 132.0,231.3" fill="none" stroke="#111" stroke-width="1.8"/>
<polyline points="174.9,223.5 182.9,223.5" fill="none" stroke="#111" stroke-width="1.8"/>
<polyline points="23.7,231.1 31.7,231.1 31.7,233.1 34.7,233.1" fill="none" stroke="#111" stroke-width="1.8"/>
<polyline points="48.5,230.4 50.5,230.4 50.5,232.4 53.5,232.4" fill="none" stroke="#111" stroke-width="1.8"/>
<polyline points="77.8,231.8 79.8,231.8" fill="none" stroke="#111" stroke-width="1.8"/>
<polyline points="188.9,227.0 196.9,227.0 196.9,225.0 199.9,225.0" fill="none" stroke="#111" stroke-width="1.8"/>
<polyline points="225.6,231.7 231.6,231.7" fill="none" stroke="#111" stroke-width="1.8"/>
<polyline points="214.7,221.7 222.7,221.7" fill="none" stroke="#111" stroke-width="1.8"/>
<polyline points="82.8,219.2 87.8,219.2 87.8,221.2 90.8,221.2" fill="none" stroke="#111" stroke-width="1.8"/>
<polyline points="114.2,218.4 116.2,218.4" fill="none" stroke="#111" stroke-width="1.8"/>
<polyline points="11.9,225.5 19.9,225.5" fill="none" stroke="#111" stroke-width="1.8"/>
<polyline points="35.8,220.1 41.8,220.1" fill="none" stroke="#111" stroke-width="1.8"/>
<polyline points="121.1,227.5 126.1,227.5" fill="none" stroke="#111" stroke-width="1.8"/>
<polyline points="115.3,231.3 117.3,231.3" fill="none" stroke="#111" stroke-width="1.8"/>
<polyline points="53.2,264.4 61.2,264.4" fill="none" stroke="#111" stroke-width="1.8"/>
<polyline points="22.4,261.8 28.4,261.8 28.4,263.8 33.4,263.8" fill="none" stroke="#111" stroke-width="1.8"/>
<polyline points="27.3,281.3 33.3,281.3" fill="none" stroke="#111" stroke-width="1.8"/>
<polyline points="68.2,243.7 74.2,243.7 74.2,241.7 79.2,241.7" fill="none" stroke="#111" stroke-width="1.8"/>
<polyline points="46.2,263.2 48.2,263.2" fill="none" stroke="#111" stroke-width="1.8"/>
<polyline points="48.9,278.5 54.9,278.5 54.9,276.5 59.9,276.5" fill="none" stroke="#111" stroke-width="1.8"/>
<polyline points="22.7,286.0 27.7,286.0" fill="none" stroke="#111" stroke-width="1.8"/>
<polyline points="111.2,285.6 115.2,285.6 115.2,287.6 117.2,287.6" fill="none" stroke="#111" stroke-width="1.8"/>
<polyline points="42.0,284.3 47.0,284.3" fill="none" stroke="#111" stroke-width="1.8"/>
<polyline points="16.2,256.3 18.2,256.3" fill="none" stroke="#111" stroke-width="1.8"/>
<polyline points="18.5,277.2 20.5,277.2 20.5,275.2 22.5,275.2" fill="none" stroke="#111" stroke-width="1.8"/>
<polyline points="5.3,248.5 13.3,248.5 13.3,250.5 15.3,250.5" fill="none" stroke="#111" stroke-width="1.8"/>
<polyline points="60.0,265.8 66.0,265.8" fill="none" stroke="#111" stroke-width="1.8"/>
<polyline points="84.4,272.7 89.4,272.7 89.4,274.7 94.4,274.7" fill="none" stroke="#111" stroke-width="1.8"/>
<polyline points="73.0,263.2 81.0,263.2" fill="none" stroke="#111" stroke-width="1.8"/>
<polyline points="28.5,244.5 34.5,244.5" fill="none" stroke="#111" stroke-width="1.8"/>
<polyline points="100.0,245.5 108.0,245.5" fill="none" stroke="#111" stroke-width="1.8"/>
<polyline points="42.9,242.5 48.9,242.5 48.9,240.5 50.9,240.5" fill="none" stroke="#111" stroke-width="1.8"/>
<polyline points="91.2,243.3 93.2,243.3 93.2,241.3 95.2,241.3" fill="none" stroke="#111" stroke-width="1.8"/>
<polyline points="85.4,247.1 87.4,247.1" fill="none" stroke="#111" stroke-width="1.8"/>
<polyline points="109.4,263.5 117.4,263.5 117.4,265.5 122.4,265.5" fill="none" stroke="#111" stroke-width="1.8"/>
<polyline points="80.7,233.0 83.7,233.0" fill="none" stroke="#111" stroke-width="1.8"/>
<polyline points="44.0,279.6 48.0,279.6 48.0,281.6 53.0,281.6" fill="none" stroke="#111" stroke-width="1.8"/>
<polyline points="115.8,280.3 117.8,280.3" fill="none" stroke="#111" stroke-width="1.8"/>
<polyline points="6.7,276.2 12.7,276.2" fill="none" stroke="#111" stroke-width="1.8"/>
<polyline points="67.7,240.5 70.7,240.5 70.7,238.5 72.7,238.5" fill="none" stroke="#111" stroke-width="1.8"/>
<polyline points="114.9,285.8 116.9,285.8" fill="none" stroke="#111" stroke-width="1.8"/>
<polyline points="19.1,271.5 21.1,271.5" fill="none" stroke="#111" stroke-width="1.8"/>
<polyline points="40.6,259.1 46.6,259.1 46.6,257.1 51.6,257.1" fill="none" stroke="#111" stroke-width="1.8"/>
<polyline points="45.8,268.8 47.8,268.8" fill="none" stroke="#111" stroke-width="1.8"/>
<polyline points="24.3,258.3 32.3,258.3 32.3,256.3 37.3,256.3" fill="none" stroke="#111" stroke-width="1.8"/>
<polyline points="22.5,261.7 24.5,261.7 24.5,259.7 29.5,259.7" fill="none" stroke="#111" stroke-width="1.8"/>
<polyline points="102.1,284.7 107.1,284.7" fill="none" stroke="#111" stroke-width="1.8"/>
<polyline points="25.4,265.9 29.4,265.9" fill="none" stroke="#111" stroke-width="1.8"/>
<polyline points="32.9,284.9 40.9,284.9" fill="none" stroke="#111" stroke-width="1.8"/>
<polyline points="21.9,286.2 24.9,286.2" fill="none" stroke="#111" stroke-width="1.8"/>
<polyline points="102.5,272.3 107.5,272.3" fill="none" stroke="#111" stroke-width="1.8"/>
<polyline points="49.4,273.9 51.4,273.9" fill="none" stroke="#111" stroke-width="1.8"/>
<polyline points="37.8,237.9 41.8,237.9" fill="none" stroke="#111" stroke-width="1.8"/>
<polyline points="105.1,234.9 109.1,234.9" fill="none" stroke="#111" stroke-width="1.8"/>
<polyline points="78.6,251.6 86.6,251.6" fill="none" stroke="#111" stroke-width="1.8"/>
<polyline points="24.4,236.5 30.4,236.5" fill="none" stroke="#111" stroke-width="1.8"/>
<polyline points="75.9,272.7 80.9,272.7" fill="none" stroke="#111" stroke-width="1.8"/>
<polyline points="6.6,267.7 14.6,267.7 14.6,269.7 17.6,269.7" fill="none" stroke="#111" stroke-width="1.8"/>
<polyline points="173.0,274.5 181.0,274.5 181.0,272.5 184.0,272.5" fill="none" stroke="#111" stroke-width="1.8"/>
<polyline points="143.9,283.9 149.9,283.9" fill="none" stroke="#111" stroke-width="1.8"/>
<polyline points="162.8,258.8 164.8,258.8" fill="none" stroke="#111" stroke-width="1.8"/>
<polyline points="208.1,230.0 214.1,230.0" fill="none" stroke="#111" stroke-width="1.8"/>
<polyline points="224.9,250.1 227.9,250.1 227.9,248.1 230.9,248.1" fill="none" stroke="#111" stroke-width="1.8"/>
<polyline points="177.3,263.8 182.3,263.8" fill="none" stroke="#111" stroke-width="1.8"/>
<polyline points="163.4,259.2 169.4,259.2 169.4,261.2 172.4,261.2" fill="none" stroke="#111" stroke-width="1.8"/>
<polyline points="190.3,261.4 194.3,261.4" fill="none" stroke="#111" stroke-width="1.8"/>
<polyline points="201.0,226.7 204.0,226.7" fill="none" stroke="#111" stroke-width="1.8"/>
<polyline points="187.8,251.6 195.8,251.6 195.8,253.6 200.8,253.6" fill="none" stroke="#111" stroke-width="1.8"/>
<polyline points="160.7,262.8 168.7,262.8" fill="none" stroke="#111" stroke-width="1.8"/>
<polyline points="123.5,283.9 128.5,283.9" fill="none" stroke="#111" stroke-width="1.8"/>
<polyline points="143.9,274.1 145.9,274.1" fill="none" stroke="#111" stroke-width="1.8"/>
<polyline points="222.8,272.0 227.8,272.0 227.8,270.0 232.8,270.0" fill="none" stroke="#111" stroke-width="1.8"/>
<polyline points="196.2,228.3 201.2,228.3" fill="none" stroke="#111" stroke-width="1.8"/>
<polyline points="138.4,228.4 144.4,228.4 144.4,230.4 147.4,230.4" fill="none" stroke="#111" stroke-width="1.8"/>
<polyline points="131.1,252.1 137.1,252.1 137.1,254.1 140.1,254.1" fill="none" stroke="#111" stroke-width="1.8"/>
<polyline points="204.5,259.5 207.5,259.5" fill="none" stroke="#111" stroke-width="1.8"/>
<polyline points="199.4,240.5 201.4,240.5" fill="none" stroke="#111" stroke-width="1.8"/>
<polyline points="150.5,258.0 154.5,258.0 154.5,256.0 159.5,256.0" fill="none" stroke="#111" stroke-width="1.8"/>
<polyline points="147.0,240.6 150.0,240.6" fill="none" stroke="#111" stroke-width="1.8"/>
<polyline points="190.1,237.7 198.1,237.7 198.1,235.7 200.1,235.7" fill="none" stroke="#111" stroke-width="1.8"/>
<polyline points="146.2,252.6 152.2,252.6 152.2,250.6 157.2,250.6" fill="none" stroke="#111" stroke-width="1.8"/>
<polyline points="147.0,274.1 155.0,274.1 155.0,272.1 160.0,272.1" fill="none" stroke="#111" stroke-width="1.8"/>
<polyline points="225.8,293.8 229.8,293.8 229.8,295.8 232.8,295.8" fill="none" stroke="#111" stroke-width="1.8"/>
<polyline points="172.3,298.1 174.3,298.1" fill="none" stroke="#111" stroke-width="1.8"/>
<polyline points="105.1,297.9 108.1,297.9" fill="none" stroke="#111" stroke-width="1.8"/>
<polyline points="172.9,292.7 175.9,292.7 175.9,294.7 178.9,294.7" fill="none" stroke="#111" stroke-width="1.8"/>
<polyline points="128.0,297.0 131.0,297.0" fill="none" stroke="#111" stroke-width="1.8"/>
<polyline points="87.5,289.2 91.5,289.2 91.5,287.2 94.5,287.2" fill="none" stroke="#111" stroke-width="1.8"/>
<polyline points="131.5,293.8 139.5,293.8" fill="none" stroke="#111" stroke-width="1.8"/>
<polyline points="190.1,288.1 194.1,288.1 194.1,286.1 199.1,286.1" fill="none" stroke="#111" stroke-width="1.8"/>
<polyline points="72.7,296.7 80.7,296.7 80.7,294.7 82.7,294.7" fill="none" stroke="#111" stroke-width="1.8"/>
<polyline points="84.9,296.7 88.9,296.7" fill="none" stroke="#111" stroke-width="1.8"/>
<polyline points="76.9,293.3 82.9,293.3" fill="none" stroke="#111" stroke-width="1.8"/>
<polyline points="216.4,299.0 221.4,299.0" fill="none" stroke="#111" stroke-width="1.8"/>
<polyline points="228.3,293.5 231.3,293.5 231.3,291.5 233.3,291.5" fill="none" stroke="#111" stroke-width="1.8"/>
<polyline points="85.7,292.4 89.7,292.4" fill="none" stroke="#111" stroke-width="1.8"/>
<polyline points="78.3,377.8 86.3,377.8" fill="none" stroke="#111" stroke-width="1.8"/>
<polyline points="105.2,365.0 111.2,365.0" fill="none" stroke="#111" stroke-width="1.8"/>
<polyline points="26.4,375.9 30.4,375.9" fill="none" stroke="#111" stroke-width="1.8"/>
<polyline points="32.1,340.9 35.1,340.9" fill="none" stroke="#111" stroke-width="1.8"/>
<polyline points="126.7,370.6 131.7,370.6 131.7,372.6 136.7,372.6" fill="none" stroke="#111" stroke-width="1.8"/>
<polyline points="14.7,342.1 22.7,342.1 22.7,344.1 24.7,344.1" fill="none" stroke="#111" stroke-width="1.8"/>
<polyline points="7.3,370.7 9.3,370.7" fill="none" stroke="#111" stroke-width="1.8"/>
<polyline points="86.4,350.3 89.4,350.3" fill="none" stroke="#111" stroke-width="1.8"/>
<polyline points="119.3,354.9 124.3,354.9 124.3,356.9 127.3,356.9" fill="none" stroke="#111" stroke-width="1.8"/>
<polyline points="89.4,362.7 95.4,362.7" fill="none" stroke="#111" stroke-width="1.8"/>
<polyline points="13.2,368.9 15.2,368.9" fill="none" stroke="#111" stroke-width="1.8"/>
<polyline points="108.9,371.3 110.9,371.3" fill="none" stroke="#111" stroke-width="1.8"/>
<polyline points="109.9,382.4 115.9,382.4" fill="none" stroke="#111" stroke-width="1.8"/>
<polyline points="70.5,373.5 72.5,373.5" fill="none" stroke="#111" stroke-width="1.8"/>
<polyline points="57.4,345.3 65.4,345.3 65.4,347.3 70.4,347.3" fill="none" stroke="#111" stroke-width="1.8"/>
<polyline points="25.3,348.2 30.3,348.2" fill="none" stroke="#111" stroke-width="1.8"/>
<polyline points="38.8,382.3 43.8,382.3 43.8,380.3 46.8,380.3" fill="none" stroke="#111" stroke-width="1.8"/>
<polyline points="86.3,376.8 89.3,376.8" fill="none" stroke="#111" stroke-width="1.8"/>
<polyline points="99.6,338.9 104.6,338.9" fill="none" stroke="#111" stroke-width="1.8"/>
<polyline points="8.6,343.4 11.6,343.4 11.6,341.4 16.6,341.4" fill="none" stroke="#111" stroke-width="1.8"/>
<polyline points="95.1,367.7 98.1,367.7" fill="none" stroke="#111" stroke-width="1.8"/>
<polyline points="117.6,358.1 121.6,358.1" fill="none" stroke="#111" stroke-width="1.8"/>
<polyline points="123.6,365.5 127.6,365.5" fill="none" stroke="#111" stroke-width="1.8"/>
<polyline points="55.1,385.8 63.1,385.8" fill="none" stroke="#111" stroke-width="1.8"/>
<polyline points="125.5,362.1 128.5,362.1 128.5,360.1 130.5,360.1" fill="none" stroke="#111" stroke-width="1.8"/>
<polyline points="105.8,357.2 111.8,357.2" fill="none" stroke="#111" stroke-width="1.8"/>
<polyline points="102.3,377.4 104.3,377.4" fill="none" stroke="#111" stroke-width="1.8"/>
<polyline points="34.2,338.5 39.2,338.5" fill="none" stroke="#111" stroke-width="1.8"/>
<polyline points="61.2,350.3 66.2,350.3" fill="none" stroke="#111" stroke-width="1.8"/>
<polyline points="24.0,345.8 28.0,345.8 28.0,343.8 33.0,343.8" fill="none" stroke="#111" stroke-width="1.8"/>
<polyline points="98.2,369.0 104.2,369.0" fill="none" stroke="#111" stroke-width="1.8"/>
<polyline points="23.1,376.5 25.1,376.5 25.1,374.5 27.1,374.5" fill="none" stroke="#111" stroke-width="1.8"/>
<polyline points="14.5,351.5 22.5,351.5" fill="none" stroke="#111" stroke-width="1.8"/>
<polyline points="117.0,372.7 119.0,372.7" fill="none" stroke="#111" stroke-width="1.8"/>
<polyline points="78.5,380.9 82.5,380.9 82.5,378.9 85.5,378.9" fill="none" stroke="#111" stroke-width="1.8"/>
<polyline points="28.5,372.1 33.5,372.1 33.5,374.1 38.5,374.1" fill="none" stroke="#111" stroke-width="1.8"/>
<polyline points="66.8,385.3 70.8,385.3 70.8,387.3 72.8,387.3" fill="none" stroke="#111" stroke-width="1.8"/>
<polyline points="74.7,387.9 82.7,387.9" fill="none" stroke="#111" stroke-width="1.8"/>
<polyline points="49.7,372.4 51.7,372.4" fill="none" stroke="#111" stroke-width="1.8"/>
<polyline points="89.8,375.3 91.8,375.3" fill="none" stroke="#111" stroke-width="1.8"/>
<polyline points="5.6,356.9 13.6,356.9" fill="none" stroke="#111" stroke-width="1.8"/>
<polyline points="41.3,343.7 43.3,343.7" fill="none" stroke="#111" stroke-width="1.8"/>
<polyline points="111.3,374.0 117.3,374.0 117.3,376.0 122.3,376.0" fill="none" stroke="#111" stroke-width="1.8"/>
<polyline points="99.2,385.7 104.2,385.7" fill="none" stroke="#111" stroke-width="1.8"/>
<polyline points="15.0,347.4 20.0,347.4" fill="none" stroke="#111" stroke-width="1.8"/>
<polyline points="45.8,385.3 51.8,385.3" fill="none" stroke="#111" stroke-width="1.8"/>
<polyline points="85.3,360.3 90.3,360.3 90.3,358.3 95.3,358.3" fill="none" stroke="#111" stroke-width="1.8"/>
<polyline points="16.0,371.9 24.0,371.9 24.0,369.9 27.0,369.9" fill="none" stroke="#111" stroke-width="1.8"/>
<polyline points="8.6,361.2 16.6,361.2 16.6,359.2 18.6,359.2" fill="none" stroke="#111" stroke-width="1.8"/>
<polyline points="23.9,344.2 28.9,344.2" fill="none" stroke="#111" stroke-width="1.8"/>
<polyline points="47.4,379.2 53.4,379.2 53.4,377.2 55.4,377.2" fill="none" stroke="#111" stroke-width="1.8"/>
<polyline points="108.3,357.3 112.3,357.3" fill="none" stroke="#111" stroke-width="1.8"/>
<polyline points="83.1,374.3 89.1,374.3" fill="none" stroke="#111" stroke-width="1.8"/>
<polyline points="128.7,377.5 136.7,377.5" fill="none" stroke="#111" stroke-width="1.8"/>
<polyline points="71.3,351.0 74.3,351.0 74.3,353.0 76.3,353.0" fill="none" stroke="#111" stroke-width="1.8"/>
<polyline points="74.8,348.2 78.8,348.2" fill="none" stroke="#111" stroke-width="1.8"/>
<polyline points="214.3,352.7 217.3,352.7 217.3,354.7 222.3,354.7" fill="none" stroke="#111" stroke-width="1.8"/>
<polyline points="161.1,352.7 167.1,352.7 167.1,350.7 172.1,350.7" fill="none" stroke="#111" stroke-width="1.8"/>
<polyline points="229.9,355.0 232.9,355.0" fill="none" stroke="#111" stroke-width="1.8"/>
<polyline points="142.4,353.8 144.4,353.8 144.4,355.8 149.4,355.8" fill="none" stroke="#111" stroke-width="1.8"/>
<polyline points="177.6,346.0 179.6,346.0" fill="none" stroke="#111" stroke-width="1.8"/>
<polyline points="172.5,349.1 174.5,349.1" fill="none" stroke="#111" stroke-width="1.8"/>
<polyline points="205.7,343.7 211.7,343.7" fill="none" stroke="#111" stroke-width="1.8"/>
<polyline points="190.5,351.4 194.5,351.4 194.5,353.4 199.5,353.4" fill="none" stroke="#111" stroke-width="1.8"/>
<polyline points="153.1,360.4 155.1,360.4 155.1,362.4 157.1,362.4" fill="none" stroke="#111" stroke-width="1.8"/>
<polyline points="208.2,346.7 211.2,346.7 211.2,344.7 214.2,344.7" fill="none" stroke="#111" stroke-width="1.8"/>
<polyline points="142.9,342.3 150.9,342.3 150.9,344.3 155.9,344.3" fill="none" stroke="#111" stroke-width="1.8"/>
<polyline points="193.3,357.3 195.3,357.3 195.3,359.3 198.3,359.3" fill="none" stroke="#111" stroke-width="1.8"/>
<polyline points="118.8,207.0 120.8,207.0" fill="none" stroke="#111" stroke-width="1.8"/>
<polyline points="135.0,206.8 139.0,206.8 139.0,208.8 141.0,208.8" fill="none" stroke="#111" stroke-width="1.8"/>
<polyline points="188.8,198.6 196.8,198.6" fill="none" stroke="#111" stroke-width="1.8"/>
<polyline points="161.4,206.5 163.4,206.5" fill="none" stroke="#111" stroke-width="1.8"/>
<polyline points="162.3,208.6 170.3,208.6" fill="none" stroke="#111" stroke-width="1.8"/>
<polyline points="161.8,202.8 166.8,202.8" fill="none" stroke="#111" stroke-width="1.8"/>
<polyline points="213.3,205.0 218.3,205.0 218.3,203.0 223.3,203.0" fill="none" stroke="#111" stroke-width="1.8"/>
<polyline points="153.0,206.9 158.0,206.9" fill="none" stroke="#111" stroke-width="1.8"/>
<polyline points="76.5,156.4 84.5,156.4" fill="none" stroke="#111" stroke-width="1.8"/>
<polyline points="101.9,164.4 105.9,164.4" fill="none" stroke="#111" stroke-width="1.8"/>
<polyline points="72.9,169.8 74.9,169.8 74.9,171.8 76.9,171.8" fill="none" stroke="#111" stroke-width="1.8"/>
<polyline points="117.6,164.9 119.6,164.9" fill="none" stroke="#111" stroke-width="1.8"/>
<polyline points="27.8,177.7 33.8,177.7 33.8,179.7 35.8,179.7" fill="none" stroke="#111" stroke-width="1.8"/>
<polyline points="202.8,180.0 210.8,180.0" fill="none" stroke="#111" stroke-width="1.8"/>
<rect x="4" y="4" width="230" height="385" filter="url(#noise)" style="mix-blend-mode:soft-light" opacity="0.9"/>
</g>
<line x1="4" y1="4.8" x2="24" y2="4.8" stroke="#904070" stroke-width="1.3"/>
<polyline points="5.5,10 5.5,13 5.5,16 5.5,19" fill="none" stroke="#111" stroke-width="2.2" stroke-dasharray="2 1.5"/>
<rect x="7" y="6" width="19.4" height="17.5" fill="#fff"/>
<text x="16.7" y="18.8" text-anchor="middle" class="tb" font-size="18.5">a</text>
<line x1="112.5" y1="74.5" x2="112.5" y2="328.5" stroke="#000" stroke-width="2.6"/>
<rect x="73.7" y="77.8" width="27" height="23.6" fill="#fff"/>
<text x="87.2" y="98.8" text-anchor="middle" class="tb" font-size="27">A</text>
<rect x="73.3" y="148" width="27" height="20.5" fill="#fff"/>
<text x="86.8" y="165.5" text-anchor="middle" class="tb" font-size="27">B</text>
<rect x="73.3" y="222" width="27" height="21.5" fill="#fff"/>
<text x="86.8" y="240.5" text-anchor="middle" class="tb" font-size="27">C</text>
<rect x="72.7" y="281.6" width="27" height="22.3" fill="#fff"/>
<text x="86.2" y="302.3" text-anchor="middle" class="tb" font-size="27">D</text>
<rect x="73.5" y="315.8" width="26" height="21.5" fill="#fff"/>
<text x="86.5" y="335.5" text-anchor="middle" class="tb" font-size="27">E</text>
<rect x="137" y="362.5" width="96" height="25" fill="#fff"/>
<rect x="138.4" y="380.7" width="91.6" height="4.3" fill="#000"/>
<text x="185" y="378" text-anchor="middle" class="tn" font-size="17">50μm</text>
<!-- RD/ND -->
<polyline points="259.7,339.5 244,339.5 244,373" fill="none" stroke="#1020f0" stroke-width="1.6"/>
<text x="261" y="344.5" class="tn" font-size="13.5">RD</text>
<text x="238" y="386.4" class="tn" font-size="14.5">ND</text>
<!-- chart -->
<text x="244" y="19.6" class="tb" font-size="19">b</text>
<rect x="276" y="8.7" width="263.2" height="195.4" fill="none" stroke="#333" stroke-width="1.3"/>
<g stroke="#333" stroke-width="1.1">
<line x1="276" y1="57.5" x2="280" y2="57.5"/><line x1="276" y1="106.5" x2="280" y2="106.5"/><line x1="276" y1="155.3" x2="280" y2="155.3"/>
<line x1="328.6" y1="204" x2="328.6" y2="200"/><line x1="381.2" y1="204" x2="381.2" y2="200"/><line x1="433.8" y1="204" x2="433.8" y2="200"/><line x1="486.4" y1="204" x2="486.4" y2="200"/>
</g>
<g class="tn" font-size="10.5" text-anchor="end" fill="#222">
<text x="271" y="11.5">80</text><text x="271" y="61">60</text><text x="271" y="110.3">40</text><text x="271" y="159">20</text><text x="271" y="207.6">0</text>
</g>
<g class="tn" font-size="10.5" text-anchor="middle" fill="#222">
<text x="276" y="217.5">0</text><text x="328.6" y="217.5">30</text><text x="381.2" y="217.5">60</text><text x="433.8" y="217.5">90</text><text x="486.4" y="217.5">120</text><text x="539" y="217.5">150</text>
</g>
<text class="tb" font-size="10" x="391.5" y="227.8" text-anchor="middle">Distance/(μm)</text>
<text class="tn" font-size="14.7" transform="translate(255.3,110.4) rotate(-90)" text-anchor="middle">Misorientation angle/(°)</text>
<line x1="281.6" y1="18.1" x2="309.8" y2="18.1" stroke="#f02020" stroke-width="2"/>
<line x1="282.8" y1="36.9" x2="311" y2="36.9" stroke="#1018f0" stroke-width="2"/>
<text class="tb" font-size="9.9" x="316.6" y="21.5">Point to origin</text>
<text class="tb" font-size="9.9" x="317.3" y="39.6">Point to point</text>
<polyline points="276.3,204.0 279.5,149.0 280.5,149.4 283.2,159.5 286.2,159.5 289.3,154.5 291.3,152.4 294.3,152.4 296.4,157.5 298.4,160.6 300.4,161.6 303.5,159.1 305.5,163.6 308.6,166.7 312.6,169.7 315.7,171.7 317.7,170.1 319.7,171.7 321.8,169.3 323.8,170.7 325.8,166.6 327.9,168.7 330.9,175.4 334.0,175.8 336.0,171.7 337.2,140.0 337.6,107.8 339.0,108.4 340.3,107.2 341.5,106.6 343.1,106.6 344.0,131.7 345.2,134.7 347.6,132.9 349.4,131.7 351.9,129.2 354.3,126.2 356.2,119.4 358.0,115.8 359.8,114.0 361.7,112.1 362.9,108.4 364.1,104.2 365.3,102.3 366.6,99.9 367.8,95.0 369.6,85.5 372.3,78.3 374.8,80.3 377.9,82.0 380.0,85.5 382.1,87.6 383.7,88.6 385.2,97.0 390.4,97.4 392.1,58.5 393.5,57.9 395.6,60.0 399.7,59.5 402.4,58.5 404.5,74.1 406.0,71.0 408.1,68.9 410.1,65.8 412.2,65.8 414.3,63.7 417.4,63.7 419.5,76.2 422.6,76.2 424.7,88.6 426.1,79.3 428.2,86.6 430.9,87.6 433.0,95.9 435.1,101.1 437.2,101.1 438.2,76.2 441.3,75.8 444.4,74.1 446.5,74.1 448.6,72.0 450.7,69.9 452.7,72.0 455.2,71.0 456.9,72.4 459.0,71.0 461.1,70.4 463.1,71.0 464.6,88.6 466.4,90.7 467.9,101.1 469.6,113.6 471.6,121.9 473.7,128.1 474.6,129.7 475.8,127.1 477.9,120.9 481.0,120.9 484.1,110.5 486.2,111.5 488.3,104.2 489.3,94.9 491.4,93.8 493.5,80.3 495.5,79.3 497.6,83.5 499.1,86.6 500.7,101.1 502.8,101.5 505.9,101.1 508.0,103.2 510.1,107.4 511.1,76.2 512.2,65.8 514.2,61.6 516.3,60.6 518.4,68.9 520.5,60.6 521.9,59.5 523.6,70.0 525.7,73.1 527.3,83.5 529.8,82.0 531.9,89.7 534.0,100.1 536.1,97.0 538.1,95.9" fill="none" stroke="#f01c1c" stroke-width="1.4" stroke-linejoin="round"/>
<polyline points="276.5,204.0 279.5,151.0 280.9,203.6 282.6,191.0 284.3,200.5 286.4,204.0 289.3,118.5 291.4,203.8 294.3,200.0 296.2,193.0 298.0,198.0 300.0,189.6 301.7,198.0 303.5,195.0 305.5,198.0 307.6,197.0 309.2,201.0 310.6,203.0 312.6,201.0 314.7,198.0 316.7,201.0 319.7,201.0 321.8,202.0 323.8,201.0 325.2,190.0 326.9,202.0 328.5,190.0 331.0,203.0 333.0,204.0 336.0,194.0 337.4,139.0 339.0,198.0 342.0,195.0 343.4,196.0 344.6,57.9 345.8,192.0 348.0,197.0 350.0,202.0 352.0,200.0 355.0,195.4 357.2,195.8 358.9,199.7 360.4,200.7 362.5,197.5 364.0,193.2 365.3,204.0 366.8,191.0 367.9,190.0 369.0,195.4 370.5,194.3 372.2,197.5 374.0,196.4 375.5,198.6 376.5,200.7 378.3,202.9 379.8,194.3 381.9,193.2 383.0,196.4 384.1,194.3 385.1,197.5 386.2,195.4 387.3,202.9 389.5,201.8 390.5,193.2 392.3,156.6 393.8,202.9 395.5,200.7 397.0,202.9 399.1,200.7 400.7,200.1 402.4,200.7 404.5,151.2 406.7,200.7 408.4,202.9 409.9,196.4 411.4,199.7 413.1,194.3 414.9,198.6 417.4,196.4 419.2,189.3 420.7,197.5 422.8,194.3 424.3,188.5 426.1,191.1 427.8,196.4 429.3,200.7 430.8,202.9 432.1,188.9 433.2,172.8 434.7,202.9 436.4,200.7 438.5,132.5 440.5,202.5 442.3,188.5 444.0,202.9 445.5,199.7 447.5,178.1 448.8,202.9 450.5,197.5 453.1,199.7 455.2,197.5 457.4,191.1 459.1,201.8 460.6,190.0 462.1,202.9 463.4,192.1 464.9,176.4 466.4,184.6 467.7,182.4 469.9,191.1 471.4,200.7 472.5,188.9 474.0,170.6 475.3,195.4 476.8,184.6 478.5,201.8 480.0,200.7 482.1,202.9 484.3,131.8 486.4,201.8 488.0,195.4 489.7,184.6 491.4,194.3 493.3,181.4 495.1,191.1 497.3,198.0 499.5,200.5 500.8,154.0 502.8,154.4 504.7,202.8 506.3,196.4 508.4,198.0 510.0,193.0 511.2,82.4 513.5,195.0 515.4,199.5 517.8,196.0 520.0,197.5 522.3,195.0 524.3,191.0 526.6,111.1 527.8,197.3 529.7,202.7 531.9,189.8 534.0,188.7 535.5,194.1 537.3,199.5 539.0,195.2" fill="none" stroke="#1018f0" stroke-width="1.6" stroke-linejoin="round"/>
<g class="tn" font-size="18">
<text x="285" y="113.5">A</text><text x="331" y="70.4">B</text><text x="433.3" y="127.7">C</text><text x="496.3" y="122.3">D</text><text x="521" y="107.4">E</text>
</g>
<!-- pole figure -->
<text x="245" y="237.2" class="tb" font-size="20">c</text>
<text x="264.3" y="262.6" class="tn" font-size="19" textLength="45" lengthAdjust="spacingAndGlyphs">{111}</text>
<text x="342.8" y="249.2" class="tn" font-size="18.5">RD</text>
<text x="425.8" y="325.9" class="tn" font-size="18.5">TD</text>
<circle cx="354" cy="321" r="70" fill="#0a14f2"/>
<g clip-path="url(#circ)" filter="url(#bl)">
<ellipse cx="324.8" cy="285.5" rx="19.5" ry="10.5" transform="rotate(-45 324.8 285.5)" fill="#1430d8" stroke="#4a3a80" stroke-width="2.3"/>
<ellipse cx="324.8" cy="285.5" rx="19.5" ry="10.5" transform="rotate(-45 324.8 285.5)" fill="#1430d8" stroke="none" stroke-width="0"/>
<ellipse cx="324.8" cy="285.5" rx="16.77" ry="9.03" transform="rotate(-45 324.8 285.5)" fill="#1a44c4" stroke="#584a80" stroke-width="2.3"/>
<ellipse cx="324.8" cy="285.5" rx="16.77" ry="9.03" transform="rotate(-45 324.8 285.5)" fill="#1a44c4" stroke="none" stroke-width="0"/>
<ellipse cx="324.8" cy="285.5" rx="14.04" ry="7.56" transform="rotate(-45 324.8 285.5)" fill="#1a8296" stroke="#5a6468" stroke-width="2.3"/>
<ellipse cx="324.8" cy="285.5" rx="14.04" ry="7.56" transform="rotate(-45 324.8 285.5)" fill="#1a8296" stroke="none" stroke-width="0"/>
<ellipse cx="324.8" cy="285.5" rx="11.31" ry="6.09" transform="rotate(-45 324.8 285.5)" fill="#20e028" stroke="#6a7a50" stroke-width="2.3"/>
<ellipse cx="324.8" cy="285.5" rx="11.31" ry="6.09" transform="rotate(-45 324.8 285.5)" fill="#20e028" stroke="none" stroke-width="0"/>
<ellipse cx="324.8" cy="285.5" rx="8.19" ry="4.41" transform="rotate(-45 324.8 285.5)" fill="#40f030" stroke="#8a9a50" stroke-width="2.3"/>
<ellipse cx="324.8" cy="285.5" rx="8.19" ry="4.41" transform="rotate(-45 324.8 285.5)" fill="#40f030" stroke="none" stroke-width="0"/>
<ellipse cx="324.8" cy="285.5" rx="5.85" ry="3.15" transform="rotate(-45 324.8 285.5)" fill="#30f030" stroke="none" stroke-width="0"/>
<ellipse cx="291.2" cy="298.3" rx="7.5" ry="11.5" transform="rotate(12 291.2 298.3)" fill="#1430d8" stroke="#4a3a80" stroke-width="2.3"/>
<ellipse cx="291.2" cy="298.3" rx="7.5" ry="11.5" transform="rotate(12 291.2 298.3)" fill="#1430d8" stroke="none" stroke-width="0"/>
<ellipse cx="291.2" cy="298.3" rx="6.15" ry="9.43" transform="rotate(12 291.2 298.3)" fill="#1a44c4" stroke="#584a80" stroke-width="2.3"/>
<ellipse cx="291.2" cy="298.3" rx="6.15" ry="9.43" transform="rotate(12 291.2 298.3)" fill="#1a44c4" stroke="none" stroke-width="0"/>
<ellipse cx="291.2" cy="298.3" rx="4.8" ry="7.36" transform="rotate(12 291.2 298.3)" fill="#20e028" stroke="#6a7a50" stroke-width="2.3"/>
<ellipse cx="291.2" cy="298.3" rx="4.8" ry="7.36" transform="rotate(12 291.2 298.3)" fill="#20e028" stroke="none" stroke-width="0"/>
<ellipse cx="291.2" cy="298.3" rx="3.6" ry="5.52" transform="rotate(12 291.2 298.3)" fill="#78f040" stroke="#d068c0" stroke-width="2.3"/>
<ellipse cx="291.2" cy="298.3" rx="3.6" ry="5.52" transform="rotate(12 291.2 298.3)" fill="#78f040" stroke="none" stroke-width="0"/>
<ellipse cx="291.2" cy="298.3" rx="2.475" ry="3.795" transform="rotate(12 291.2 298.3)" fill="#e8f040" stroke="none" stroke-width="0"/>
<ellipse cx="291.2" cy="298.3" rx="1.05" ry="1.61" transform="rotate(12 291.2 298.3)" fill="#c0f040" stroke="none" stroke-width="0"/>
<circle cx="338.9" cy="324.4" r="9.8" fill="#1430d8" stroke="#4a3a80" stroke-width="2.3"/>
<circle cx="338.9" cy="324.4" r="9.8" fill="#1430d8" stroke="none" stroke-width="0"/>
<circle cx="338.9" cy="324.4" r="8.232" fill="#1a44c4" stroke="#584a80" stroke-width="2.3"/>
<circle cx="338.9" cy="324.4" r="8.232" fill="#1a44c4" stroke="none" stroke-width="0"/>
<circle cx="338.9" cy="324.4" r="6.664" fill="#20e028" stroke="#6a7a50" stroke-width="2.3"/>
<circle cx="338.9" cy="324.4" r="6.664" fill="#20e028" stroke="none" stroke-width="0"/>
<circle cx="338.9" cy="324.4" r="5.096" fill="#50f040" stroke="#d068c0" stroke-width="2.3"/>
<circle cx="338.9" cy="324.4" r="5.096" fill="#50f040" stroke="none" stroke-width="0"/>
<circle cx="338.9" cy="324.4" r="3.528" fill="#90f040" stroke="#d068c0" stroke-width="2.3"/>
<circle cx="338.9" cy="324.4" r="3.528" fill="#90f040" stroke="none" stroke-width="0"/>
<circle cx="338.9" cy="324.4" r="1.96" fill="#e8f040" stroke="none" stroke-width="0"/>
<circle cx="338.9" cy="324.4" r="0.98" fill="#f08a20" stroke="none" stroke-width="0"/>
<ellipse cx="305.3" cy="344" rx="24.5" ry="7.6" transform="rotate(51 305.3 344)" fill="#1430d8" stroke="#4a3a80" stroke-width="2.3"/>
<ellipse cx="305.3" cy="344" rx="24.5" ry="7.6" transform="rotate(51 305.3 344)" fill="#1430d8" stroke="none" stroke-width="0"/>
<ellipse cx="305.3" cy="344" rx="21.315" ry="6.612" transform="rotate(51 305.3 344)" fill="#1a44c4" stroke="#584a80" stroke-width="2.3"/>
<ellipse cx="305.3" cy="344" rx="21.315" ry="6.612" transform="rotate(51 305.3 344)" fill="#1a44c4" stroke="none" stroke-width="0"/>
<ellipse cx="305.3" cy="344" rx="18.13" ry="5.624" transform="rotate(51 305.3 344)" fill="#1a8296" stroke="#5a6468" stroke-width="2.3"/>
<ellipse cx="305.3" cy="344" rx="18.13" ry="5.624" transform="rotate(51 305.3 344)" fill="#1a8296" stroke="none" stroke-width="0"/>
<ellipse cx="305.3" cy="344" rx="14.7" ry="4.56" transform="rotate(51 305.3 344)" fill="#20e028" stroke="#6a7a50" stroke-width="2.3"/>
<ellipse cx="305.3" cy="344" rx="14.7" ry="4.56" transform="rotate(51 305.3 344)" fill="#20e028" stroke="none" stroke-width="0"/>
<ellipse cx="305.3" cy="344" rx="9.8" ry="3.04" transform="rotate(51 305.3 344)" fill="#40f030" stroke="none" stroke-width="0"/>
<ellipse cx="382" cy="301" rx="13.5" ry="26" transform="rotate(-12 382 301)" fill="#1430d8" stroke="#4a3a80" stroke-width="2.3"/>
<ellipse cx="382" cy="301" rx="13.5" ry="26" transform="rotate(-12 382 301)" fill="#1430d8" stroke="none" stroke-width="0"/>
<ellipse cx="382.5" cy="301" rx="11.3" ry="23" transform="rotate(-12 382.5 301)" fill="#1a44c4" stroke="#584a80" stroke-width="2.3"/>
<ellipse cx="382.5" cy="301" rx="11.3" ry="23" transform="rotate(-12 382.5 301)" fill="#1a44c4" stroke="none" stroke-width="0"/>
<circle cx="387.8" cy="290.4" r="8.2" fill="#1a8296" stroke="#5a6468" stroke-width="2.3"/>
<ellipse cx="382.3" cy="308" rx="9.3" ry="13" transform="rotate(-5 382.3 308)" fill="#1a8296" stroke="#5a6468" stroke-width="2.3"/>
<circle cx="387.8" cy="290.4" r="8.2" fill="#1a8296" stroke="none" stroke-width="0"/>
<ellipse cx="382.3" cy="308" rx="9.3" ry="13" transform="rotate(-5 382.3 308)" fill="#1a8296" stroke="none" stroke-width="0"/>
<circle cx="387.8" cy="290.4" r="6.6" fill="#20e028" stroke="#6a7a50" stroke-width="2.3"/>
<ellipse cx="382.3" cy="308" rx="7.3" ry="10.5" transform="rotate(-5 382.3 308)" fill="#20e028" stroke="#6a7a50" stroke-width="2.3"/>
<circle cx="387.8" cy="290.4" r="6.6" fill="#20e028" stroke="none" stroke-width="0"/>
<ellipse cx="382.3" cy="308" rx="7.3" ry="10.5" transform="rotate(-5 382.3 308)" fill="#20e028" stroke="none" stroke-width="0"/>
<circle cx="387.8" cy="290.4" r="4.9" fill="#78f040" stroke="#d068c0" stroke-width="2.3"/>
<circle cx="387.8" cy="290.4" r="4.9" fill="#78f040" stroke="none" stroke-width="0"/>
<ellipse cx="382.3" cy="308" rx="4.6" ry="7.3" transform="rotate(-5 382.3 308)" fill="#40f030" stroke="#8a9a50" stroke-width="2.3"/>
<ellipse cx="382.3" cy="308" rx="4.6" ry="7.3" transform="rotate(-5 382.3 308)" fill="#40f030" stroke="none" stroke-width="0"/>
<circle cx="387.8" cy="290.4" r="3" fill="#e8f040" stroke="none" stroke-width="0"/>
<circle cx="387.8" cy="290.4" r="1.2" fill="#f08a20" stroke="none" stroke-width="0"/>
<ellipse cx="382.3" cy="308" rx="2.5" ry="4.5" transform="rotate(-5 382.3 308)" fill="#30f030" stroke="none" stroke-width="0"/>
<ellipse cx="366" cy="367.5" rx="25" ry="13.5" transform="rotate(-33 366 367.5)" fill="#1430d8" stroke="#4a3a80" stroke-width="2.3"/>
<circle cx="357" cy="379.5" r="10.5" fill="#1430d8" stroke="#4a3a80" stroke-width="2.3"/>
<ellipse cx="366" cy="367.5" rx="25" ry="13.5" transform="rotate(-33 366 367.5)" fill="#1430d8" stroke="none" stroke-width="0"/>
<circle cx="357" cy="379.5" r="10.5" fill="#1430d8" stroke="none" stroke-width="0"/>
<ellipse cx="366.3" cy="367.3" rx="22" ry="11.3" transform="rotate(-30 366.3 367.3)" fill="#1a44c4" stroke="#584a80" stroke-width="2.3"/>
<circle cx="357" cy="379.5" r="8.8" fill="#1a44c4" stroke="#584a80" stroke-width="2.3"/>
<ellipse cx="366.3" cy="367.3" rx="22" ry="11.3" transform="rotate(-30 366.3 367.3)" fill="#1a44c4" stroke="none" stroke-width="0"/>
<circle cx="357" cy="379.5" r="8.8" fill="#1a44c4" stroke="none" stroke-width="0"/>
<ellipse cx="366.5" cy="367" rx="19" ry="9.3" transform="rotate(-25 366.5 367)" fill="#1a8296" stroke="#5a6468" stroke-width="2.3"/>
<circle cx="357" cy="379.5" r="7.6" fill="#1a8296" stroke="#5a6468" stroke-width="2.3"/>
<ellipse cx="366.5" cy="367" rx="19" ry="9.3" transform="rotate(-25 366.5 367)" fill="#1a8296" stroke="none" stroke-width="0"/>
<circle cx="357" cy="379.5" r="7.6" fill="#1a8296" stroke="none" stroke-width="0"/>
<ellipse cx="366.5" cy="366.5" rx="16" ry="7.3" transform="rotate(-18 366.5 366.5)" fill="#20e028" stroke="#6a7a50" stroke-width="2.3"/>
<circle cx="357" cy="379.5" r="6.4" fill="#20e028" stroke="#6a7a50" stroke-width="2.3"/>
<ellipse cx="366.5" cy="366.5" rx="16" ry="7.3" transform="rotate(-18 366.5 366.5)" fill="#20e028" stroke="none" stroke-width="0"/>
<circle cx="357" cy="379.5" r="6.4" fill="#20e028" stroke="none" stroke-width="0"/>
<ellipse cx="366.5" cy="367" rx="8" ry="2.8" transform="rotate(-10 366.5 367)" fill="#40f030" stroke="#8a9a50" stroke-width="2.3"/>
<ellipse cx="366.5" cy="367" rx="8" ry="2.8" transform="rotate(-10 366.5 367)" fill="#40f030" stroke="none" stroke-width="0"/>
<circle cx="357" cy="379.5" r="5" fill="#78f040" stroke="#d068c0" stroke-width="2.3"/>
<circle cx="357" cy="379.5" r="5" fill="#78f040" stroke="none" stroke-width="0"/>
<circle cx="357" cy="379.5" r="3" fill="#e8f040" stroke="none" stroke-width="0"/>
<circle cx="357" cy="379.5" r="1.2" fill="#f08a20" stroke="none" stroke-width="0"/>
<ellipse cx="424" cy="335" rx="4" ry="9" transform="rotate(10 424 335)" fill="#1430d8" stroke="#4a3a80" stroke-width="2.3"/>
<ellipse cx="424" cy="335" rx="4" ry="9" transform="rotate(10 424 335)" fill="#1430d8" stroke="none" stroke-width="0"/>
<ellipse cx="424" cy="335" rx="2.8" ry="7" transform="rotate(10 424 335)" fill="#1a44c4" stroke="#584a80" stroke-width="2.3"/>
<ellipse cx="424" cy="335" rx="2.8" ry="7" transform="rotate(10 424 335)" fill="#1a44c4" stroke="none" stroke-width="0"/>
</g>
<line x1="284" y1="321.2" x2="424" y2="321.2" stroke="#0a0a40" stroke-width="1.1"/>
<line x1="353.8" y1="251" x2="353.8" y2="391" stroke="#0a0a40" stroke-width="1.1"/>
<text x="397" y="394.8" class="tn" font-size="14.6">Max=14.45</text>
<rect x="406" y="239.1" width="54.8" height="37.6" fill="url(#pole)"/>
<text x="433.2" y="255" text-anchor="middle" class="tb" font-size="12.5">Pole</text>
<text x="433.5" y="270" text-anchor="middle" class="tb" font-size="12.5">Figure</text>
<!-- legend -->
<text x="500" y="235.9" text-anchor="middle" class="tb" font-size="10">Relative strength</text>
<rect x="488.5" y="239" width="23" height="11.6" fill="url(#s0)" stroke="#111" stroke-width="1.5"/>
<rect x="488.5" y="250.6" width="23" height="11.4" fill="url(#s1)" stroke="#111" stroke-width="1.5"/>
<rect x="488.5" y="262" width="23" height="11.8" fill="url(#s2)" stroke="#111" stroke-width="1.5"/>
<rect x="488.5" y="273.8" width="23" height="11" fill="url(#s3)" stroke="#111" stroke-width="1.5"/>
<rect x="488.5" y="284.8" width="23" height="11.5" fill="url(#s4)" stroke="#111" stroke-width="1.5"/>
<rect x="488.5" y="296.3" width="23" height="11.7" fill="url(#s5)" stroke="#111" stroke-width="1.5"/>
<rect x="488.5" y="308" width="23" height="12.4" fill="url(#s6)" stroke="#111" stroke-width="1.5"/>
<rect x="488.5" y="320.4" width="23" height="10.9" fill="url(#s7)" stroke="#111" stroke-width="1.5"/>
<rect x="488.5" y="331.3" width="23" height="11.4" fill="url(#s8)" stroke="#111" stroke-width="1.5"/>
<rect x="488.5" y="342.7" width="23" height="12.1" fill="url(#s9)" stroke="#111" stroke-width="1.5"/>
<rect x="488.5" y="354.8" width="23" height="10.8" fill="url(#s10)" stroke="#111" stroke-width="1.5"/>
<rect x="488.5" y="365.6" width="23" height="11.7" fill="url(#s11)" stroke="#111" stroke-width="1.5"/>
<rect x="488.5" y="377.3" width="23" height="11.8" fill="url(#s12)" stroke="#111" stroke-width="1.5"/>
<rect x="488.5" y="389.1" width="23" height="12.4" fill="url(#s13)" stroke="#111" stroke-width="1.5"/>
<rect x="488.5" y="401.5" width="23" height="3.5" fill="url(#s14)" stroke="#111" stroke-width="1.5"/>
<text x="486" y="255.2" text-anchor="end" class="tn" font-size="14">1</text>
<text x="486" y="266.6" text-anchor="end" class="tn" font-size="14">2</text>
<text x="486" y="278.4" text-anchor="end" class="tn" font-size="14">3</text>
<text x="486" y="289.4" text-anchor="end" class="tn" font-size="14">4</text>
<text x="486" y="300.9" text-anchor="end" class="tn" font-size="14">5</text>
<text x="486" y="312.6" text-anchor="end" class="tn" font-size="14">6</text>
<text x="486" y="325.0" text-anchor="end" class="tn" font-size="14">7</text>
<text x="486" y="335.9" text-anchor="end" class="tn" font-size="14">8</text>
<text x="486" y="347.3" text-anchor="end" class="tn" font-size="14">9</text>
<text x="486" y="359.4" text-anchor="end" class="tn" font-size="14">10</text>
<text x="486" y="370.2" text-anchor="end" class="tn" font-size="14">11</text>
<text x="486" y="381.9" text-anchor="end" class="tn" font-size="14">12</text>
<text x="486" y="393.7" text-anchor="end" class="tn" font-size="14">13</text>
<rect x="521.6" y="239.6" width="5.7" height="160" fill="url(#arr)"/>
<polygon points="519.3,398 530.2,398 524.5,404.6" fill="#f01818"/>
<text class="sb" font-size="12.5" transform="translate(533,239.8) rotate(90)" textLength="19.6" lengthAdjust="spacingAndGlyphs">min</text>
<text class="sb" font-size="12.5" transform="translate(533,381.4) rotate(90)" textLength="21.6" lengthAdjust="spacingAndGlyphs">max</text>
</svg>
</body></html>
